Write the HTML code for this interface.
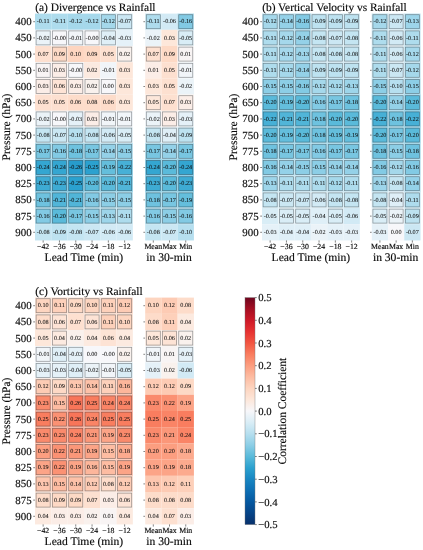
<!DOCTYPE html>
<html><head><meta charset="utf-8"><title>Correlation heatmaps</title>
<style>html,body{margin:0;padding:0;background:#fff;}svg{display:block;}svg text{stroke:#0a0a0a;stroke-width:0.15px;}svg text.a{stroke-width:0.06px;}</style>
</head><body>
<svg width="423" height="550" viewBox="0 0 423 550" text-rendering="geometricPrecision" font-family="Liberation Serif, Times New Roman, serif">
<rect x="0" y="0" width="423" height="550" fill="#ffffff"/>
<text x="35.2" y="11.0" font-size="11.4" fill="#0a0a0a">(a) Divergence vs Rainfall</text>
<text x="31.6" y="25.1" font-size="10.9" text-anchor="end" fill="#0a0a0a">400</text>
<line x1="33.2" y1="21.70" x2="35.0" y2="21.70" stroke="#333" stroke-width="0.6"/>
<line x1="143.4" y1="21.70" x2="145.2" y2="21.70" stroke="#333" stroke-width="0.6"/>
<rect x="35.00" y="13.60" width="16.35" height="16.25" fill="#aedced"/>
<text x="43.15" y="23.45" class="a" font-size="6.2" text-anchor="middle" fill="#111">-0.11</text>
<rect x="51.30" y="13.60" width="16.35" height="16.25" fill="#aedced"/>
<text x="59.45" y="23.45" class="a" font-size="6.2" text-anchor="middle" fill="#111">-0.11</text>
<rect x="67.60" y="13.60" width="16.35" height="16.25" fill="#a5d8eb"/>
<text x="75.75" y="23.45" class="a" font-size="6.2" text-anchor="middle" fill="#111">-0.12</text>
<rect x="83.90" y="13.60" width="16.35" height="16.25" fill="#a5d8eb"/>
<text x="92.05" y="23.45" class="a" font-size="6.2" text-anchor="middle" fill="#111">-0.12</text>
<rect x="100.20" y="13.60" width="16.35" height="16.25" fill="#a5d8eb"/>
<rect x="100.70" y="14.10" width="15.30" height="15.20" fill="none" stroke="#ffffff" stroke-opacity="0.45" stroke-width="1"/>
<rect x="101.30" y="14.70" width="14.10" height="14.00" fill="none" stroke="#1a2228" stroke-opacity="0.45" stroke-width="0.75"/>
<text x="108.35" y="23.45" class="a" font-size="6.2" text-anchor="middle" fill="#111">-0.12</text>
<rect x="116.50" y="13.60" width="16.35" height="16.25" fill="#cbe7f3"/>
<rect x="117.00" y="14.10" width="15.30" height="15.20" fill="none" stroke="#ffffff" stroke-opacity="0.45" stroke-width="1"/>
<rect x="117.60" y="14.70" width="14.10" height="14.00" fill="none" stroke="#1a2228" stroke-opacity="0.45" stroke-width="0.75"/>
<text x="124.65" y="23.45" class="a" font-size="6.2" text-anchor="middle" fill="#111">-0.07</text>
<rect x="145.20" y="13.60" width="16.27" height="16.25" fill="#aedced"/>
<rect x="145.70" y="14.10" width="15.22" height="15.20" fill="none" stroke="#ffffff" stroke-opacity="0.45" stroke-width="1"/>
<rect x="146.30" y="14.70" width="14.02" height="14.00" fill="none" stroke="#1a2228" stroke-opacity="0.45" stroke-width="0.75"/>
<text x="153.31" y="23.45" class="a" font-size="6.2" text-anchor="middle" fill="#111">-0.11</text>
<rect x="161.42" y="13.60" width="16.27" height="16.25" fill="#d2eaf5"/>
<text x="169.53" y="23.45" class="a" font-size="6.2" text-anchor="middle" fill="#111">-0.06</text>
<rect x="177.64" y="13.60" width="16.27" height="16.25" fill="#82cae4"/>
<rect x="178.14" y="14.10" width="15.22" height="15.20" fill="none" stroke="#ffffff" stroke-opacity="0.45" stroke-width="1"/>
<rect x="178.74" y="14.70" width="14.02" height="14.00" fill="none" stroke="#1a2228" stroke-opacity="0.45" stroke-width="0.75"/>
<text x="185.75" y="23.45" class="a" font-size="6.2" text-anchor="middle" fill="#111">-0.16</text>
<text x="31.6" y="41.3" font-size="10.9" text-anchor="end" fill="#0a0a0a">450</text>
<line x1="33.2" y1="37.90" x2="35.0" y2="37.90" stroke="#333" stroke-width="0.6"/>
<line x1="143.4" y1="37.90" x2="145.2" y2="37.90" stroke="#333" stroke-width="0.6"/>
<rect x="35.00" y="29.80" width="16.35" height="16.25" fill="#ebf3f8"/>
<rect x="35.50" y="30.30" width="15.30" height="15.20" fill="none" stroke="#ffffff" stroke-opacity="0.45" stroke-width="1"/>
<rect x="36.10" y="30.90" width="14.10" height="14.00" fill="none" stroke="#1a2228" stroke-opacity="0.45" stroke-width="0.75"/>
<text x="43.15" y="39.65" class="a" font-size="6.2" text-anchor="middle" fill="#111">-0.02</text>
<rect x="51.30" y="29.80" width="16.35" height="16.25" fill="#f7f7fa"/>
<rect x="51.80" y="30.30" width="15.30" height="15.20" fill="none" stroke="#ffffff" stroke-opacity="0.45" stroke-width="1"/>
<rect x="52.40" y="30.90" width="14.10" height="14.00" fill="none" stroke="#1a2228" stroke-opacity="0.45" stroke-width="0.75"/>
<text x="59.45" y="39.65" class="a" font-size="6.2" text-anchor="middle" fill="#111">-0.00</text>
<rect x="67.60" y="29.80" width="16.35" height="16.25" fill="#f1f5f9"/>
<rect x="68.10" y="30.30" width="15.30" height="15.20" fill="none" stroke="#ffffff" stroke-opacity="0.45" stroke-width="1"/>
<rect x="68.70" y="30.90" width="14.10" height="14.00" fill="none" stroke="#1a2228" stroke-opacity="0.45" stroke-width="0.75"/>
<text x="75.75" y="39.65" class="a" font-size="6.2" text-anchor="middle" fill="#111">-0.01</text>
<rect x="83.90" y="29.80" width="16.35" height="16.25" fill="#f7f7fa"/>
<rect x="84.40" y="30.30" width="15.30" height="15.20" fill="none" stroke="#ffffff" stroke-opacity="0.45" stroke-width="1"/>
<rect x="85.00" y="30.90" width="14.10" height="14.00" fill="none" stroke="#1a2228" stroke-opacity="0.45" stroke-width="0.75"/>
<text x="92.05" y="39.65" class="a" font-size="6.2" text-anchor="middle" fill="#111">-0.00</text>
<rect x="100.20" y="29.80" width="16.35" height="16.25" fill="#dfeff7"/>
<rect x="100.70" y="30.30" width="15.30" height="15.20" fill="none" stroke="#ffffff" stroke-opacity="0.45" stroke-width="1"/>
<rect x="101.30" y="30.90" width="14.10" height="14.00" fill="none" stroke="#1a2228" stroke-opacity="0.45" stroke-width="0.75"/>
<text x="108.35" y="39.65" class="a" font-size="6.2" text-anchor="middle" fill="#111">-0.04</text>
<rect x="116.50" y="29.80" width="16.35" height="16.25" fill="#e5f1f8"/>
<text x="124.65" y="39.65" class="a" font-size="6.2" text-anchor="middle" fill="#111">-0.03</text>
<rect x="145.20" y="29.80" width="16.27" height="16.25" fill="#ebf3f8"/>
<text x="153.31" y="39.65" class="a" font-size="6.2" text-anchor="middle" fill="#111">-0.02</text>
<rect x="161.42" y="29.80" width="16.27" height="16.25" fill="#fde7da"/>
<text x="169.53" y="39.65" class="a" font-size="6.2" text-anchor="middle" fill="#111">0.03</text>
<rect x="177.64" y="29.80" width="16.27" height="16.25" fill="#d9edf6"/>
<rect x="178.14" y="30.30" width="15.22" height="15.20" fill="none" stroke="#ffffff" stroke-opacity="0.45" stroke-width="1"/>
<rect x="178.74" y="30.90" width="14.02" height="14.00" fill="none" stroke="#1a2228" stroke-opacity="0.45" stroke-width="0.75"/>
<text x="185.75" y="39.65" class="a" font-size="6.2" text-anchor="middle" fill="#111">-0.05</text>
<text x="31.6" y="57.5" font-size="10.9" text-anchor="end" fill="#0a0a0a">500</text>
<line x1="33.2" y1="54.10" x2="35.0" y2="54.10" stroke="#333" stroke-width="0.6"/>
<line x1="143.4" y1="54.10" x2="145.2" y2="54.10" stroke="#333" stroke-width="0.6"/>
<rect x="35.00" y="46.00" width="16.35" height="16.25" fill="#fde0d0"/>
<text x="43.15" y="55.85" class="a" font-size="6.2" text-anchor="middle" fill="#111">0.07</text>
<rect x="51.30" y="46.00" width="16.35" height="16.25" fill="#fdd9c5"/>
<rect x="51.80" y="46.50" width="15.30" height="15.20" fill="none" stroke="#ffffff" stroke-opacity="0.45" stroke-width="1"/>
<rect x="52.40" y="47.10" width="14.10" height="14.00" fill="none" stroke="#1a2228" stroke-opacity="0.45" stroke-width="0.75"/>
<text x="59.45" y="55.85" class="a" font-size="6.2" text-anchor="middle" fill="#111">0.09</text>
<rect x="67.60" y="46.00" width="16.35" height="16.25" fill="#fdd5c0"/>
<text x="75.75" y="55.85" class="a" font-size="6.2" text-anchor="middle" fill="#111">0.10</text>
<rect x="83.90" y="46.00" width="16.35" height="16.25" fill="#fdd9c5"/>
<text x="92.05" y="55.85" class="a" font-size="6.2" text-anchor="middle" fill="#111">0.09</text>
<rect x="100.20" y="46.00" width="16.35" height="16.25" fill="#fde0d0"/>
<text x="108.35" y="55.85" class="a" font-size="6.2" text-anchor="middle" fill="#111">0.05</text>
<rect x="116.50" y="46.00" width="16.35" height="16.25" fill="#f9f1ed"/>
<rect x="117.00" y="46.50" width="15.30" height="15.20" fill="none" stroke="#ffffff" stroke-opacity="0.45" stroke-width="1"/>
<rect x="117.60" y="47.10" width="14.10" height="14.00" fill="none" stroke="#1a2228" stroke-opacity="0.45" stroke-width="0.75"/>
<text x="124.65" y="55.85" class="a" font-size="6.2" text-anchor="middle" fill="#111">0.02</text>
<rect x="145.20" y="46.00" width="16.27" height="16.25" fill="#fde0d0"/>
<rect x="145.70" y="46.50" width="15.22" height="15.20" fill="none" stroke="#ffffff" stroke-opacity="0.45" stroke-width="1"/>
<rect x="146.30" y="47.10" width="14.02" height="14.00" fill="none" stroke="#1a2228" stroke-opacity="0.45" stroke-width="0.75"/>
<text x="153.31" y="55.85" class="a" font-size="6.2" text-anchor="middle" fill="#111">0.07</text>
<rect x="161.42" y="46.00" width="16.27" height="16.25" fill="#fdd9c5"/>
<text x="169.53" y="55.85" class="a" font-size="6.2" text-anchor="middle" fill="#111">0.09</text>
<rect x="177.64" y="46.00" width="16.27" height="16.25" fill="#f8f4f4"/>
<rect x="178.14" y="46.50" width="15.22" height="15.20" fill="none" stroke="#ffffff" stroke-opacity="0.45" stroke-width="1"/>
<rect x="178.74" y="47.10" width="14.02" height="14.00" fill="none" stroke="#1a2228" stroke-opacity="0.45" stroke-width="0.75"/>
<text x="185.75" y="55.85" class="a" font-size="6.2" text-anchor="middle" fill="#111">0.01</text>
<text x="31.6" y="73.7" font-size="10.9" text-anchor="end" fill="#0a0a0a">550</text>
<line x1="33.2" y1="70.30" x2="35.0" y2="70.30" stroke="#333" stroke-width="0.6"/>
<line x1="143.4" y1="70.30" x2="145.2" y2="70.30" stroke="#333" stroke-width="0.6"/>
<rect x="35.00" y="62.20" width="16.35" height="16.25" fill="#f8f4f4"/>
<rect x="35.50" y="62.70" width="15.30" height="15.20" fill="none" stroke="#ffffff" stroke-opacity="0.45" stroke-width="1"/>
<rect x="36.10" y="63.30" width="14.10" height="14.00" fill="none" stroke="#1a2228" stroke-opacity="0.45" stroke-width="0.75"/>
<text x="43.15" y="72.05" class="a" font-size="6.2" text-anchor="middle" fill="#111">0.01</text>
<rect x="51.30" y="62.20" width="16.35" height="16.25" fill="#fbede7"/>
<rect x="51.80" y="62.70" width="15.30" height="15.20" fill="none" stroke="#ffffff" stroke-opacity="0.45" stroke-width="1"/>
<rect x="52.40" y="63.30" width="14.10" height="14.00" fill="none" stroke="#1a2228" stroke-opacity="0.45" stroke-width="0.75"/>
<text x="59.45" y="72.05" class="a" font-size="6.2" text-anchor="middle" fill="#111">0.03</text>
<rect x="67.60" y="62.20" width="16.35" height="16.25" fill="#f7f7fa"/>
<rect x="68.10" y="62.70" width="15.30" height="15.20" fill="none" stroke="#ffffff" stroke-opacity="0.45" stroke-width="1"/>
<rect x="68.70" y="63.30" width="14.10" height="14.00" fill="none" stroke="#1a2228" stroke-opacity="0.45" stroke-width="0.75"/>
<text x="75.75" y="72.05" class="a" font-size="6.2" text-anchor="middle" fill="#111">-0.00</text>
<rect x="83.90" y="62.20" width="16.35" height="16.25" fill="#fceae0"/>
<text x="92.05" y="72.05" class="a" font-size="6.2" text-anchor="middle" fill="#111">0.02</text>
<rect x="100.20" y="62.20" width="16.35" height="16.25" fill="#f1f5f9"/>
<text x="108.35" y="72.05" class="a" font-size="6.2" text-anchor="middle" fill="#111">-0.01</text>
<rect x="116.50" y="62.20" width="16.35" height="16.25" fill="#fde7da"/>
<text x="124.65" y="72.05" class="a" font-size="6.2" text-anchor="middle" fill="#111">0.03</text>
<rect x="145.20" y="62.20" width="16.27" height="16.25" fill="#fbede7"/>
<text x="153.31" y="72.05" class="a" font-size="6.2" text-anchor="middle" fill="#111">0.01</text>
<rect x="161.42" y="62.20" width="16.27" height="16.25" fill="#fde0d0"/>
<text x="169.53" y="72.05" class="a" font-size="6.2" text-anchor="middle" fill="#111">0.05</text>
<rect x="177.64" y="62.20" width="16.27" height="16.25" fill="#f1f5f9"/>
<rect x="178.14" y="62.70" width="15.22" height="15.20" fill="none" stroke="#ffffff" stroke-opacity="0.45" stroke-width="1"/>
<rect x="178.74" y="63.30" width="14.02" height="14.00" fill="none" stroke="#1a2228" stroke-opacity="0.45" stroke-width="0.75"/>
<text x="185.75" y="72.05" class="a" font-size="6.2" text-anchor="middle" fill="#111">-0.01</text>
<text x="31.6" y="89.9" font-size="10.9" text-anchor="end" fill="#0a0a0a">600</text>
<line x1="33.2" y1="86.50" x2="35.0" y2="86.50" stroke="#333" stroke-width="0.6"/>
<line x1="143.4" y1="86.50" x2="145.2" y2="86.50" stroke="#333" stroke-width="0.6"/>
<rect x="35.00" y="78.40" width="16.35" height="16.25" fill="#fbede7"/>
<rect x="35.50" y="78.90" width="15.30" height="15.20" fill="none" stroke="#ffffff" stroke-opacity="0.45" stroke-width="1"/>
<rect x="36.10" y="79.50" width="14.10" height="14.00" fill="none" stroke="#1a2228" stroke-opacity="0.45" stroke-width="0.75"/>
<text x="43.15" y="88.25" class="a" font-size="6.2" text-anchor="middle" fill="#111">0.03</text>
<rect x="51.30" y="78.40" width="16.35" height="16.25" fill="#fde3d5"/>
<rect x="51.80" y="78.90" width="15.30" height="15.20" fill="none" stroke="#ffffff" stroke-opacity="0.45" stroke-width="1"/>
<rect x="52.40" y="79.50" width="14.10" height="14.00" fill="none" stroke="#1a2228" stroke-opacity="0.45" stroke-width="0.75"/>
<text x="59.45" y="88.25" class="a" font-size="6.2" text-anchor="middle" fill="#111">0.06</text>
<rect x="67.60" y="78.40" width="16.35" height="16.25" fill="#fbede7"/>
<rect x="68.10" y="78.90" width="15.30" height="15.20" fill="none" stroke="#ffffff" stroke-opacity="0.45" stroke-width="1"/>
<rect x="68.70" y="79.50" width="14.10" height="14.00" fill="none" stroke="#1a2228" stroke-opacity="0.45" stroke-width="0.75"/>
<text x="75.75" y="88.25" class="a" font-size="6.2" text-anchor="middle" fill="#111">0.03</text>
<rect x="83.90" y="78.40" width="16.35" height="16.25" fill="#f9f1ed"/>
<rect x="84.40" y="78.90" width="15.30" height="15.20" fill="none" stroke="#ffffff" stroke-opacity="0.45" stroke-width="1"/>
<rect x="85.00" y="79.50" width="14.10" height="14.00" fill="none" stroke="#1a2228" stroke-opacity="0.45" stroke-width="0.75"/>
<text x="92.05" y="88.25" class="a" font-size="6.2" text-anchor="middle" fill="#111">0.02</text>
<rect x="100.20" y="78.40" width="16.35" height="16.25" fill="#f7f7fa"/>
<rect x="100.70" y="78.90" width="15.30" height="15.20" fill="none" stroke="#ffffff" stroke-opacity="0.45" stroke-width="1"/>
<rect x="101.30" y="79.50" width="14.10" height="14.00" fill="none" stroke="#1a2228" stroke-opacity="0.45" stroke-width="0.75"/>
<text x="108.35" y="88.25" class="a" font-size="6.2" text-anchor="middle" fill="#111">0.00</text>
<rect x="116.50" y="78.40" width="16.35" height="16.25" fill="#fde7da"/>
<text x="124.65" y="88.25" class="a" font-size="6.2" text-anchor="middle" fill="#111">0.03</text>
<rect x="145.20" y="78.40" width="16.27" height="16.25" fill="#fde7da"/>
<text x="153.31" y="88.25" class="a" font-size="6.2" text-anchor="middle" fill="#111">0.03</text>
<rect x="161.42" y="78.40" width="16.27" height="16.25" fill="#fde0d0"/>
<text x="169.53" y="88.25" class="a" font-size="6.2" text-anchor="middle" fill="#111">0.05</text>
<rect x="177.64" y="78.40" width="16.27" height="16.25" fill="#ebf3f8"/>
<text x="185.75" y="88.25" class="a" font-size="6.2" text-anchor="middle" fill="#111">-0.02</text>
<text x="31.6" y="106.1" font-size="10.9" text-anchor="end" fill="#0a0a0a">650</text>
<line x1="33.2" y1="102.70" x2="35.0" y2="102.70" stroke="#333" stroke-width="0.6"/>
<line x1="143.4" y1="102.70" x2="145.2" y2="102.70" stroke="#333" stroke-width="0.6"/>
<rect x="35.00" y="94.60" width="16.35" height="16.25" fill="#fde0d0"/>
<text x="43.15" y="104.45" class="a" font-size="6.2" text-anchor="middle" fill="#111">0.05</text>
<rect x="51.30" y="94.60" width="16.35" height="16.25" fill="#fde0d0"/>
<text x="59.45" y="104.45" class="a" font-size="6.2" text-anchor="middle" fill="#111">0.05</text>
<rect x="67.60" y="94.60" width="16.35" height="16.25" fill="#fddcca"/>
<text x="75.75" y="104.45" class="a" font-size="6.2" text-anchor="middle" fill="#111">0.06</text>
<rect x="83.90" y="94.60" width="16.35" height="16.25" fill="#fddcca"/>
<text x="92.05" y="104.45" class="a" font-size="6.2" text-anchor="middle" fill="#111">0.08</text>
<rect x="100.20" y="94.60" width="16.35" height="16.25" fill="#fddcca"/>
<text x="108.35" y="104.45" class="a" font-size="6.2" text-anchor="middle" fill="#111">0.06</text>
<rect x="116.50" y="94.60" width="16.35" height="16.25" fill="#fde7da"/>
<text x="124.65" y="104.45" class="a" font-size="6.2" text-anchor="middle" fill="#111">0.03</text>
<rect x="145.20" y="94.60" width="16.27" height="16.25" fill="#fde7da"/>
<rect x="145.70" y="95.10" width="15.22" height="15.20" fill="none" stroke="#ffffff" stroke-opacity="0.45" stroke-width="1"/>
<rect x="146.30" y="95.70" width="14.02" height="14.00" fill="none" stroke="#1a2228" stroke-opacity="0.45" stroke-width="0.75"/>
<text x="153.31" y="104.45" class="a" font-size="6.2" text-anchor="middle" fill="#111">0.05</text>
<rect x="161.42" y="94.60" width="16.27" height="16.25" fill="#fde0d0"/>
<text x="169.53" y="104.45" class="a" font-size="6.2" text-anchor="middle" fill="#111">0.07</text>
<rect x="177.64" y="94.60" width="16.27" height="16.25" fill="#fbede7"/>
<rect x="178.14" y="95.10" width="15.22" height="15.20" fill="none" stroke="#ffffff" stroke-opacity="0.45" stroke-width="1"/>
<rect x="178.74" y="95.70" width="14.02" height="14.00" fill="none" stroke="#1a2228" stroke-opacity="0.45" stroke-width="0.75"/>
<text x="185.75" y="104.45" class="a" font-size="6.2" text-anchor="middle" fill="#111">0.03</text>
<text x="31.6" y="122.3" font-size="10.9" text-anchor="end" fill="#0a0a0a">700</text>
<line x1="33.2" y1="118.90" x2="35.0" y2="118.90" stroke="#333" stroke-width="0.6"/>
<line x1="143.4" y1="118.90" x2="145.2" y2="118.90" stroke="#333" stroke-width="0.6"/>
<rect x="35.00" y="110.80" width="16.35" height="16.25" fill="#ebf3f8"/>
<rect x="35.50" y="111.30" width="15.30" height="15.20" fill="none" stroke="#ffffff" stroke-opacity="0.45" stroke-width="1"/>
<rect x="36.10" y="111.90" width="14.10" height="14.00" fill="none" stroke="#1a2228" stroke-opacity="0.45" stroke-width="0.75"/>
<text x="43.15" y="120.65" class="a" font-size="6.2" text-anchor="middle" fill="#111">-0.02</text>
<rect x="51.30" y="110.80" width="16.35" height="16.25" fill="#f7f7fa"/>
<rect x="51.80" y="111.30" width="15.30" height="15.20" fill="none" stroke="#ffffff" stroke-opacity="0.45" stroke-width="1"/>
<rect x="52.40" y="111.90" width="14.10" height="14.00" fill="none" stroke="#1a2228" stroke-opacity="0.45" stroke-width="0.75"/>
<text x="59.45" y="120.65" class="a" font-size="6.2" text-anchor="middle" fill="#111">-0.00</text>
<rect x="67.60" y="110.80" width="16.35" height="16.25" fill="#e5f1f8"/>
<rect x="68.10" y="111.30" width="15.30" height="15.20" fill="none" stroke="#ffffff" stroke-opacity="0.45" stroke-width="1"/>
<rect x="68.70" y="111.90" width="14.10" height="14.00" fill="none" stroke="#1a2228" stroke-opacity="0.45" stroke-width="0.75"/>
<text x="75.75" y="120.65" class="a" font-size="6.2" text-anchor="middle" fill="#111">-0.03</text>
<rect x="83.90" y="110.80" width="16.35" height="16.25" fill="#fbede7"/>
<rect x="84.40" y="111.30" width="15.30" height="15.20" fill="none" stroke="#ffffff" stroke-opacity="0.45" stroke-width="1"/>
<rect x="85.00" y="111.90" width="14.10" height="14.00" fill="none" stroke="#1a2228" stroke-opacity="0.45" stroke-width="0.75"/>
<text x="92.05" y="120.65" class="a" font-size="6.2" text-anchor="middle" fill="#111">0.03</text>
<rect x="100.20" y="110.80" width="16.35" height="16.25" fill="#f1f5f9"/>
<rect x="100.70" y="111.30" width="15.30" height="15.20" fill="none" stroke="#ffffff" stroke-opacity="0.45" stroke-width="1"/>
<rect x="101.30" y="111.90" width="14.10" height="14.00" fill="none" stroke="#1a2228" stroke-opacity="0.45" stroke-width="0.75"/>
<text x="108.35" y="120.65" class="a" font-size="6.2" text-anchor="middle" fill="#111">-0.01</text>
<rect x="116.50" y="110.80" width="16.35" height="16.25" fill="#f1f5f9"/>
<rect x="117.00" y="111.30" width="15.30" height="15.20" fill="none" stroke="#ffffff" stroke-opacity="0.45" stroke-width="1"/>
<rect x="117.60" y="111.90" width="14.10" height="14.00" fill="none" stroke="#1a2228" stroke-opacity="0.45" stroke-width="0.75"/>
<text x="124.65" y="120.65" class="a" font-size="6.2" text-anchor="middle" fill="#111">-0.01</text>
<rect x="145.20" y="110.80" width="16.27" height="16.25" fill="#ebf3f8"/>
<rect x="145.70" y="111.30" width="15.22" height="15.20" fill="none" stroke="#ffffff" stroke-opacity="0.45" stroke-width="1"/>
<rect x="146.30" y="111.90" width="14.02" height="14.00" fill="none" stroke="#1a2228" stroke-opacity="0.45" stroke-width="0.75"/>
<text x="153.31" y="120.65" class="a" font-size="6.2" text-anchor="middle" fill="#111">-0.02</text>
<rect x="161.42" y="110.80" width="16.27" height="16.25" fill="#fbede7"/>
<rect x="161.92" y="111.30" width="15.22" height="15.20" fill="none" stroke="#ffffff" stroke-opacity="0.45" stroke-width="1"/>
<rect x="162.52" y="111.90" width="14.02" height="14.00" fill="none" stroke="#1a2228" stroke-opacity="0.45" stroke-width="0.75"/>
<text x="169.53" y="120.65" class="a" font-size="6.2" text-anchor="middle" fill="#111">0.03</text>
<rect x="177.64" y="110.80" width="16.27" height="16.25" fill="#e5f1f8"/>
<rect x="178.14" y="111.30" width="15.22" height="15.20" fill="none" stroke="#ffffff" stroke-opacity="0.45" stroke-width="1"/>
<rect x="178.74" y="111.90" width="14.02" height="14.00" fill="none" stroke="#1a2228" stroke-opacity="0.45" stroke-width="0.75"/>
<text x="185.75" y="120.65" class="a" font-size="6.2" text-anchor="middle" fill="#111">-0.03</text>
<text x="31.6" y="138.5" font-size="10.9" text-anchor="end" fill="#0a0a0a">750</text>
<line x1="33.2" y1="135.10" x2="35.0" y2="135.10" stroke="#333" stroke-width="0.6"/>
<line x1="143.4" y1="135.10" x2="145.2" y2="135.10" stroke="#333" stroke-width="0.6"/>
<rect x="35.00" y="127.00" width="16.35" height="16.25" fill="#c4e5f2"/>
<rect x="35.50" y="127.50" width="15.30" height="15.20" fill="none" stroke="#ffffff" stroke-opacity="0.45" stroke-width="1"/>
<rect x="36.10" y="128.10" width="14.10" height="14.00" fill="none" stroke="#1a2228" stroke-opacity="0.45" stroke-width="0.75"/>
<text x="43.15" y="136.85" class="a" font-size="6.2" text-anchor="middle" fill="#111">-0.08</text>
<rect x="51.30" y="127.00" width="16.35" height="16.25" fill="#cbe7f3"/>
<rect x="51.80" y="127.50" width="15.30" height="15.20" fill="none" stroke="#ffffff" stroke-opacity="0.45" stroke-width="1"/>
<rect x="52.40" y="128.10" width="14.10" height="14.00" fill="none" stroke="#1a2228" stroke-opacity="0.45" stroke-width="0.75"/>
<text x="59.45" y="136.85" class="a" font-size="6.2" text-anchor="middle" fill="#111">-0.07</text>
<rect x="67.60" y="127.00" width="16.35" height="16.25" fill="#b6dfef"/>
<rect x="68.10" y="127.50" width="15.30" height="15.20" fill="none" stroke="#ffffff" stroke-opacity="0.45" stroke-width="1"/>
<rect x="68.70" y="128.10" width="14.10" height="14.00" fill="none" stroke="#1a2228" stroke-opacity="0.45" stroke-width="0.75"/>
<text x="75.75" y="136.85" class="a" font-size="6.2" text-anchor="middle" fill="#111">-0.10</text>
<rect x="83.90" y="127.00" width="16.35" height="16.25" fill="#c4e5f2"/>
<rect x="84.40" y="127.50" width="15.30" height="15.20" fill="none" stroke="#ffffff" stroke-opacity="0.45" stroke-width="1"/>
<rect x="85.00" y="128.10" width="14.10" height="14.00" fill="none" stroke="#1a2228" stroke-opacity="0.45" stroke-width="0.75"/>
<text x="92.05" y="136.85" class="a" font-size="6.2" text-anchor="middle" fill="#111">-0.08</text>
<rect x="100.20" y="127.00" width="16.35" height="16.25" fill="#d2eaf5"/>
<rect x="100.70" y="127.50" width="15.30" height="15.20" fill="none" stroke="#ffffff" stroke-opacity="0.45" stroke-width="1"/>
<rect x="101.30" y="128.10" width="14.10" height="14.00" fill="none" stroke="#1a2228" stroke-opacity="0.45" stroke-width="0.75"/>
<text x="108.35" y="136.85" class="a" font-size="6.2" text-anchor="middle" fill="#111">-0.06</text>
<rect x="116.50" y="127.00" width="16.35" height="16.25" fill="#d9edf6"/>
<rect x="117.00" y="127.50" width="15.30" height="15.20" fill="none" stroke="#ffffff" stroke-opacity="0.45" stroke-width="1"/>
<rect x="117.60" y="128.10" width="14.10" height="14.00" fill="none" stroke="#1a2228" stroke-opacity="0.45" stroke-width="0.75"/>
<text x="124.65" y="136.85" class="a" font-size="6.2" text-anchor="middle" fill="#111">-0.05</text>
<rect x="145.20" y="127.00" width="16.27" height="16.25" fill="#c4e5f2"/>
<rect x="145.70" y="127.50" width="15.22" height="15.20" fill="none" stroke="#ffffff" stroke-opacity="0.45" stroke-width="1"/>
<rect x="146.30" y="128.10" width="14.02" height="14.00" fill="none" stroke="#1a2228" stroke-opacity="0.45" stroke-width="0.75"/>
<text x="153.31" y="136.85" class="a" font-size="6.2" text-anchor="middle" fill="#111">-0.08</text>
<rect x="161.42" y="127.00" width="16.27" height="16.25" fill="#dfeff7"/>
<rect x="161.92" y="127.50" width="15.22" height="15.20" fill="none" stroke="#ffffff" stroke-opacity="0.45" stroke-width="1"/>
<rect x="162.52" y="128.10" width="14.02" height="14.00" fill="none" stroke="#1a2228" stroke-opacity="0.45" stroke-width="0.75"/>
<text x="169.53" y="136.85" class="a" font-size="6.2" text-anchor="middle" fill="#111">-0.04</text>
<rect x="177.64" y="127.00" width="16.27" height="16.25" fill="#bde2f0"/>
<rect x="178.14" y="127.50" width="15.22" height="15.20" fill="none" stroke="#ffffff" stroke-opacity="0.45" stroke-width="1"/>
<rect x="178.74" y="128.10" width="14.02" height="14.00" fill="none" stroke="#1a2228" stroke-opacity="0.45" stroke-width="0.75"/>
<text x="185.75" y="136.85" class="a" font-size="6.2" text-anchor="middle" fill="#111">-0.09</text>
<text x="31.6" y="154.7" font-size="10.9" text-anchor="end" fill="#0a0a0a">775</text>
<line x1="33.2" y1="151.30" x2="35.0" y2="151.30" stroke="#333" stroke-width="0.6"/>
<line x1="143.4" y1="151.30" x2="145.2" y2="151.30" stroke="#333" stroke-width="0.6"/>
<rect x="35.00" y="143.20" width="16.35" height="16.25" fill="#78c6e1"/>
<rect x="35.50" y="143.70" width="15.30" height="15.20" fill="none" stroke="#ffffff" stroke-opacity="0.45" stroke-width="1"/>
<rect x="36.10" y="144.30" width="14.10" height="14.00" fill="none" stroke="#1a2228" stroke-opacity="0.45" stroke-width="0.75"/>
<text x="43.15" y="153.05" class="a" font-size="6.2" text-anchor="middle" fill="#111">-0.17</text>
<rect x="51.30" y="143.20" width="16.35" height="16.25" fill="#82cae4"/>
<rect x="51.80" y="143.70" width="15.30" height="15.20" fill="none" stroke="#ffffff" stroke-opacity="0.45" stroke-width="1"/>
<rect x="52.40" y="144.30" width="14.10" height="14.00" fill="none" stroke="#1a2228" stroke-opacity="0.45" stroke-width="0.75"/>
<text x="59.45" y="153.05" class="a" font-size="6.2" text-anchor="middle" fill="#111">-0.16</text>
<rect x="67.60" y="143.20" width="16.35" height="16.25" fill="#6ec2df"/>
<rect x="68.10" y="143.70" width="15.30" height="15.20" fill="none" stroke="#ffffff" stroke-opacity="0.45" stroke-width="1"/>
<rect x="68.70" y="144.30" width="14.10" height="14.00" fill="none" stroke="#1a2228" stroke-opacity="0.45" stroke-width="0.75"/>
<text x="75.75" y="153.05" class="a" font-size="6.2" text-anchor="middle" fill="#111">-0.18</text>
<rect x="83.90" y="143.20" width="16.35" height="16.25" fill="#78c6e1"/>
<rect x="84.40" y="143.70" width="15.30" height="15.20" fill="none" stroke="#ffffff" stroke-opacity="0.45" stroke-width="1"/>
<rect x="85.00" y="144.30" width="14.10" height="14.00" fill="none" stroke="#1a2228" stroke-opacity="0.45" stroke-width="0.75"/>
<text x="92.05" y="153.05" class="a" font-size="6.2" text-anchor="middle" fill="#111">-0.17</text>
<rect x="100.20" y="143.20" width="16.35" height="16.25" fill="#94d1e8"/>
<rect x="100.70" y="143.70" width="15.30" height="15.20" fill="none" stroke="#ffffff" stroke-opacity="0.45" stroke-width="1"/>
<rect x="101.30" y="144.30" width="14.10" height="14.00" fill="none" stroke="#1a2228" stroke-opacity="0.45" stroke-width="0.75"/>
<text x="108.35" y="153.05" class="a" font-size="6.2" text-anchor="middle" fill="#111">-0.14</text>
<rect x="116.50" y="143.20" width="16.35" height="16.25" fill="#8ccee6"/>
<rect x="117.00" y="143.70" width="15.30" height="15.20" fill="none" stroke="#ffffff" stroke-opacity="0.45" stroke-width="1"/>
<rect x="117.60" y="144.30" width="14.10" height="14.00" fill="none" stroke="#1a2228" stroke-opacity="0.45" stroke-width="0.75"/>
<text x="124.65" y="153.05" class="a" font-size="6.2" text-anchor="middle" fill="#111">-0.15</text>
<rect x="145.20" y="143.20" width="16.27" height="16.25" fill="#78c6e1"/>
<rect x="145.70" y="143.70" width="15.22" height="15.20" fill="none" stroke="#ffffff" stroke-opacity="0.45" stroke-width="1"/>
<rect x="146.30" y="144.30" width="14.02" height="14.00" fill="none" stroke="#1a2228" stroke-opacity="0.45" stroke-width="0.75"/>
<text x="153.31" y="153.05" class="a" font-size="6.2" text-anchor="middle" fill="#111">-0.17</text>
<rect x="161.42" y="143.20" width="16.27" height="16.25" fill="#94d1e8"/>
<rect x="161.92" y="143.70" width="15.22" height="15.20" fill="none" stroke="#ffffff" stroke-opacity="0.45" stroke-width="1"/>
<rect x="162.52" y="144.30" width="14.02" height="14.00" fill="none" stroke="#1a2228" stroke-opacity="0.45" stroke-width="0.75"/>
<text x="169.53" y="153.05" class="a" font-size="6.2" text-anchor="middle" fill="#111">-0.14</text>
<rect x="177.64" y="143.20" width="16.27" height="16.25" fill="#78c6e1"/>
<rect x="178.14" y="143.70" width="15.22" height="15.20" fill="none" stroke="#ffffff" stroke-opacity="0.45" stroke-width="1"/>
<rect x="178.74" y="144.30" width="14.02" height="14.00" fill="none" stroke="#1a2228" stroke-opacity="0.45" stroke-width="0.75"/>
<text x="185.75" y="153.05" class="a" font-size="6.2" text-anchor="middle" fill="#111">-0.17</text>
<text x="31.6" y="170.9" font-size="10.9" text-anchor="end" fill="#0a0a0a">800</text>
<line x1="33.2" y1="167.50" x2="35.0" y2="167.50" stroke="#333" stroke-width="0.6"/>
<line x1="143.4" y1="167.50" x2="145.2" y2="167.50" stroke="#333" stroke-width="0.6"/>
<rect x="35.00" y="159.40" width="16.35" height="16.25" fill="#34a6d1"/>
<rect x="35.50" y="159.90" width="15.30" height="15.20" fill="none" stroke="#ffffff" stroke-opacity="0.45" stroke-width="1"/>
<rect x="36.10" y="160.50" width="14.10" height="14.00" fill="none" stroke="#1a2228" stroke-opacity="0.45" stroke-width="0.75"/>
<text x="43.15" y="169.25" class="a" font-size="6.2" text-anchor="middle" fill="#111">-0.24</text>
<rect x="51.30" y="159.40" width="16.35" height="16.25" fill="#34a6d1"/>
<rect x="51.80" y="159.90" width="15.30" height="15.20" fill="none" stroke="#ffffff" stroke-opacity="0.45" stroke-width="1"/>
<rect x="52.40" y="160.50" width="14.10" height="14.00" fill="none" stroke="#1a2228" stroke-opacity="0.45" stroke-width="0.75"/>
<text x="59.45" y="169.25" class="a" font-size="6.2" text-anchor="middle" fill="#111">-0.24</text>
<rect x="67.60" y="159.40" width="16.35" height="16.25" fill="#279ccc"/>
<rect x="68.10" y="159.90" width="15.30" height="15.20" fill="none" stroke="#ffffff" stroke-opacity="0.45" stroke-width="1"/>
<rect x="68.70" y="160.50" width="14.10" height="14.00" fill="none" stroke="#1a2228" stroke-opacity="0.45" stroke-width="0.75"/>
<text x="75.75" y="169.25" class="a" font-size="6.2" text-anchor="middle" fill="#111">-0.26</text>
<rect x="83.90" y="159.40" width="16.35" height="16.25" fill="#2ba1cf"/>
<rect x="84.40" y="159.90" width="15.30" height="15.20" fill="none" stroke="#ffffff" stroke-opacity="0.45" stroke-width="1"/>
<rect x="85.00" y="160.50" width="14.10" height="14.00" fill="none" stroke="#1a2228" stroke-opacity="0.45" stroke-width="0.75"/>
<text x="92.05" y="169.25" class="a" font-size="6.2" text-anchor="middle" fill="#111">-0.25</text>
<rect x="100.20" y="159.40" width="16.35" height="16.25" fill="#64bedc"/>
<rect x="100.70" y="159.90" width="15.30" height="15.20" fill="none" stroke="#ffffff" stroke-opacity="0.45" stroke-width="1"/>
<rect x="101.30" y="160.50" width="14.10" height="14.00" fill="none" stroke="#1a2228" stroke-opacity="0.45" stroke-width="0.75"/>
<text x="108.35" y="169.25" class="a" font-size="6.2" text-anchor="middle" fill="#111">-0.19</text>
<rect x="116.50" y="159.40" width="16.35" height="16.25" fill="#47b0d6"/>
<rect x="117.00" y="159.90" width="15.30" height="15.20" fill="none" stroke="#ffffff" stroke-opacity="0.45" stroke-width="1"/>
<rect x="117.60" y="160.50" width="14.10" height="14.00" fill="none" stroke="#1a2228" stroke-opacity="0.45" stroke-width="0.75"/>
<text x="124.65" y="169.25" class="a" font-size="6.2" text-anchor="middle" fill="#111">-0.22</text>
<rect x="145.20" y="159.40" width="16.27" height="16.25" fill="#34a6d1"/>
<rect x="145.70" y="159.90" width="15.22" height="15.20" fill="none" stroke="#ffffff" stroke-opacity="0.45" stroke-width="1"/>
<rect x="146.30" y="160.50" width="14.02" height="14.00" fill="none" stroke="#1a2228" stroke-opacity="0.45" stroke-width="0.75"/>
<text x="153.31" y="169.25" class="a" font-size="6.2" text-anchor="middle" fill="#111">-0.24</text>
<rect x="161.42" y="159.40" width="16.27" height="16.25" fill="#5abada"/>
<rect x="161.92" y="159.90" width="15.22" height="15.20" fill="none" stroke="#ffffff" stroke-opacity="0.45" stroke-width="1"/>
<rect x="162.52" y="160.50" width="14.02" height="14.00" fill="none" stroke="#1a2228" stroke-opacity="0.45" stroke-width="0.75"/>
<text x="169.53" y="169.25" class="a" font-size="6.2" text-anchor="middle" fill="#111">-0.20</text>
<rect x="177.64" y="159.40" width="16.27" height="16.25" fill="#34a6d1"/>
<rect x="178.14" y="159.90" width="15.22" height="15.20" fill="none" stroke="#ffffff" stroke-opacity="0.45" stroke-width="1"/>
<rect x="178.74" y="160.50" width="14.02" height="14.00" fill="none" stroke="#1a2228" stroke-opacity="0.45" stroke-width="0.75"/>
<text x="185.75" y="169.25" class="a" font-size="6.2" text-anchor="middle" fill="#111">-0.24</text>
<text x="31.6" y="187.1" font-size="10.9" text-anchor="end" fill="#0a0a0a">825</text>
<line x1="33.2" y1="183.70" x2="35.0" y2="183.70" stroke="#333" stroke-width="0.6"/>
<line x1="143.4" y1="183.70" x2="145.2" y2="183.70" stroke="#333" stroke-width="0.6"/>
<rect x="35.00" y="175.60" width="16.35" height="16.25" fill="#3eabd3"/>
<rect x="35.50" y="176.10" width="15.30" height="15.20" fill="none" stroke="#ffffff" stroke-opacity="0.45" stroke-width="1"/>
<rect x="36.10" y="176.70" width="14.10" height="14.00" fill="none" stroke="#1a2228" stroke-opacity="0.45" stroke-width="0.75"/>
<text x="43.15" y="185.45" class="a" font-size="6.2" text-anchor="middle" fill="#111">-0.23</text>
<rect x="51.30" y="175.60" width="16.35" height="16.25" fill="#3eabd3"/>
<rect x="51.80" y="176.10" width="15.30" height="15.20" fill="none" stroke="#ffffff" stroke-opacity="0.45" stroke-width="1"/>
<rect x="52.40" y="176.70" width="14.10" height="14.00" fill="none" stroke="#1a2228" stroke-opacity="0.45" stroke-width="0.75"/>
<text x="59.45" y="185.45" class="a" font-size="6.2" text-anchor="middle" fill="#111">-0.23</text>
<rect x="67.60" y="175.60" width="16.35" height="16.25" fill="#2ba1cf"/>
<rect x="68.10" y="176.10" width="15.30" height="15.20" fill="none" stroke="#ffffff" stroke-opacity="0.45" stroke-width="1"/>
<rect x="68.70" y="176.70" width="14.10" height="14.00" fill="none" stroke="#1a2228" stroke-opacity="0.45" stroke-width="0.75"/>
<text x="75.75" y="185.45" class="a" font-size="6.2" text-anchor="middle" fill="#111">-0.25</text>
<rect x="83.90" y="175.60" width="16.35" height="16.25" fill="#5abada"/>
<rect x="84.40" y="176.10" width="15.30" height="15.20" fill="none" stroke="#ffffff" stroke-opacity="0.45" stroke-width="1"/>
<rect x="85.00" y="176.70" width="14.10" height="14.00" fill="none" stroke="#1a2228" stroke-opacity="0.45" stroke-width="0.75"/>
<text x="92.05" y="185.45" class="a" font-size="6.2" text-anchor="middle" fill="#111">-0.20</text>
<rect x="100.20" y="175.60" width="16.35" height="16.25" fill="#5abada"/>
<rect x="100.70" y="176.10" width="15.30" height="15.20" fill="none" stroke="#ffffff" stroke-opacity="0.45" stroke-width="1"/>
<rect x="101.30" y="176.70" width="14.10" height="14.00" fill="none" stroke="#1a2228" stroke-opacity="0.45" stroke-width="0.75"/>
<text x="108.35" y="185.45" class="a" font-size="6.2" text-anchor="middle" fill="#111">-0.20</text>
<rect x="116.50" y="175.60" width="16.35" height="16.25" fill="#51b5d8"/>
<rect x="117.00" y="176.10" width="15.30" height="15.20" fill="none" stroke="#ffffff" stroke-opacity="0.45" stroke-width="1"/>
<rect x="117.60" y="176.70" width="14.10" height="14.00" fill="none" stroke="#1a2228" stroke-opacity="0.45" stroke-width="0.75"/>
<text x="124.65" y="185.45" class="a" font-size="6.2" text-anchor="middle" fill="#111">-0.21</text>
<rect x="145.20" y="175.60" width="16.27" height="16.25" fill="#3eabd3"/>
<rect x="145.70" y="176.10" width="15.22" height="15.20" fill="none" stroke="#ffffff" stroke-opacity="0.45" stroke-width="1"/>
<rect x="146.30" y="176.70" width="14.02" height="14.00" fill="none" stroke="#1a2228" stroke-opacity="0.45" stroke-width="0.75"/>
<text x="153.31" y="185.45" class="a" font-size="6.2" text-anchor="middle" fill="#111">-0.23</text>
<rect x="161.42" y="175.60" width="16.27" height="16.25" fill="#5abada"/>
<rect x="161.92" y="176.10" width="15.22" height="15.20" fill="none" stroke="#ffffff" stroke-opacity="0.45" stroke-width="1"/>
<rect x="162.52" y="176.70" width="14.02" height="14.00" fill="none" stroke="#1a2228" stroke-opacity="0.45" stroke-width="0.75"/>
<text x="169.53" y="185.45" class="a" font-size="6.2" text-anchor="middle" fill="#111">-0.20</text>
<rect x="177.64" y="175.60" width="16.27" height="16.25" fill="#3eabd3"/>
<rect x="178.14" y="176.10" width="15.22" height="15.20" fill="none" stroke="#ffffff" stroke-opacity="0.45" stroke-width="1"/>
<rect x="178.74" y="176.70" width="14.02" height="14.00" fill="none" stroke="#1a2228" stroke-opacity="0.45" stroke-width="0.75"/>
<text x="185.75" y="185.45" class="a" font-size="6.2" text-anchor="middle" fill="#111">-0.23</text>
<text x="31.6" y="203.3" font-size="10.9" text-anchor="end" fill="#0a0a0a">850</text>
<line x1="33.2" y1="199.90" x2="35.0" y2="199.90" stroke="#333" stroke-width="0.6"/>
<line x1="143.4" y1="199.90" x2="145.2" y2="199.90" stroke="#333" stroke-width="0.6"/>
<rect x="35.00" y="191.80" width="16.35" height="16.25" fill="#6ec2df"/>
<rect x="35.50" y="192.30" width="15.30" height="15.20" fill="none" stroke="#ffffff" stroke-opacity="0.45" stroke-width="1"/>
<rect x="36.10" y="192.90" width="14.10" height="14.00" fill="none" stroke="#1a2228" stroke-opacity="0.45" stroke-width="0.75"/>
<text x="43.15" y="201.65" class="a" font-size="6.2" text-anchor="middle" fill="#111">-0.18</text>
<rect x="51.30" y="191.80" width="16.35" height="16.25" fill="#51b5d8"/>
<rect x="51.80" y="192.30" width="15.30" height="15.20" fill="none" stroke="#ffffff" stroke-opacity="0.45" stroke-width="1"/>
<rect x="52.40" y="192.90" width="14.10" height="14.00" fill="none" stroke="#1a2228" stroke-opacity="0.45" stroke-width="0.75"/>
<text x="59.45" y="201.65" class="a" font-size="6.2" text-anchor="middle" fill="#111">-0.21</text>
<rect x="67.60" y="191.80" width="16.35" height="16.25" fill="#51b5d8"/>
<rect x="68.10" y="192.30" width="15.30" height="15.20" fill="none" stroke="#ffffff" stroke-opacity="0.45" stroke-width="1"/>
<rect x="68.70" y="192.90" width="14.10" height="14.00" fill="none" stroke="#1a2228" stroke-opacity="0.45" stroke-width="0.75"/>
<text x="75.75" y="201.65" class="a" font-size="6.2" text-anchor="middle" fill="#111">-0.21</text>
<rect x="83.90" y="191.80" width="16.35" height="16.25" fill="#82cae4"/>
<rect x="84.40" y="192.30" width="15.30" height="15.20" fill="none" stroke="#ffffff" stroke-opacity="0.45" stroke-width="1"/>
<rect x="85.00" y="192.90" width="14.10" height="14.00" fill="none" stroke="#1a2228" stroke-opacity="0.45" stroke-width="0.75"/>
<text x="92.05" y="201.65" class="a" font-size="6.2" text-anchor="middle" fill="#111">-0.16</text>
<rect x="100.20" y="191.80" width="16.35" height="16.25" fill="#8ccee6"/>
<rect x="100.70" y="192.30" width="15.30" height="15.20" fill="none" stroke="#ffffff" stroke-opacity="0.45" stroke-width="1"/>
<rect x="101.30" y="192.90" width="14.10" height="14.00" fill="none" stroke="#1a2228" stroke-opacity="0.45" stroke-width="0.75"/>
<text x="108.35" y="201.65" class="a" font-size="6.2" text-anchor="middle" fill="#111">-0.15</text>
<rect x="116.50" y="191.80" width="16.35" height="16.25" fill="#8ccee6"/>
<rect x="117.00" y="192.30" width="15.30" height="15.20" fill="none" stroke="#ffffff" stroke-opacity="0.45" stroke-width="1"/>
<rect x="117.60" y="192.90" width="14.10" height="14.00" fill="none" stroke="#1a2228" stroke-opacity="0.45" stroke-width="0.75"/>
<text x="124.65" y="201.65" class="a" font-size="6.2" text-anchor="middle" fill="#111">-0.15</text>
<rect x="145.20" y="191.80" width="16.27" height="16.25" fill="#6ec2df"/>
<rect x="145.70" y="192.30" width="15.22" height="15.20" fill="none" stroke="#ffffff" stroke-opacity="0.45" stroke-width="1"/>
<rect x="146.30" y="192.90" width="14.02" height="14.00" fill="none" stroke="#1a2228" stroke-opacity="0.45" stroke-width="0.75"/>
<text x="153.31" y="201.65" class="a" font-size="6.2" text-anchor="middle" fill="#111">-0.18</text>
<rect x="161.42" y="191.80" width="16.27" height="16.25" fill="#78c6e1"/>
<rect x="161.92" y="192.30" width="15.22" height="15.20" fill="none" stroke="#ffffff" stroke-opacity="0.45" stroke-width="1"/>
<rect x="162.52" y="192.90" width="14.02" height="14.00" fill="none" stroke="#1a2228" stroke-opacity="0.45" stroke-width="0.75"/>
<text x="169.53" y="201.65" class="a" font-size="6.2" text-anchor="middle" fill="#111">-0.17</text>
<rect x="177.64" y="191.80" width="16.27" height="16.25" fill="#64bedc"/>
<rect x="178.14" y="192.30" width="15.22" height="15.20" fill="none" stroke="#ffffff" stroke-opacity="0.45" stroke-width="1"/>
<rect x="178.74" y="192.90" width="14.02" height="14.00" fill="none" stroke="#1a2228" stroke-opacity="0.45" stroke-width="0.75"/>
<text x="185.75" y="201.65" class="a" font-size="6.2" text-anchor="middle" fill="#111">-0.19</text>
<text x="31.6" y="219.5" font-size="10.9" text-anchor="end" fill="#0a0a0a">875</text>
<line x1="33.2" y1="216.10" x2="35.0" y2="216.10" stroke="#333" stroke-width="0.6"/>
<line x1="143.4" y1="216.10" x2="145.2" y2="216.10" stroke="#333" stroke-width="0.6"/>
<rect x="35.00" y="208.00" width="16.35" height="16.25" fill="#82cae4"/>
<rect x="35.50" y="208.50" width="15.30" height="15.20" fill="none" stroke="#ffffff" stroke-opacity="0.45" stroke-width="1"/>
<rect x="36.10" y="209.10" width="14.10" height="14.00" fill="none" stroke="#1a2228" stroke-opacity="0.45" stroke-width="0.75"/>
<text x="43.15" y="217.85" class="a" font-size="6.2" text-anchor="middle" fill="#111">-0.16</text>
<rect x="51.30" y="208.00" width="16.35" height="16.25" fill="#5abada"/>
<rect x="51.80" y="208.50" width="15.30" height="15.20" fill="none" stroke="#ffffff" stroke-opacity="0.45" stroke-width="1"/>
<rect x="52.40" y="209.10" width="14.10" height="14.00" fill="none" stroke="#1a2228" stroke-opacity="0.45" stroke-width="0.75"/>
<text x="59.45" y="217.85" class="a" font-size="6.2" text-anchor="middle" fill="#111">-0.20</text>
<rect x="67.60" y="208.00" width="16.35" height="16.25" fill="#78c6e1"/>
<rect x="68.10" y="208.50" width="15.30" height="15.20" fill="none" stroke="#ffffff" stroke-opacity="0.45" stroke-width="1"/>
<rect x="68.70" y="209.10" width="14.10" height="14.00" fill="none" stroke="#1a2228" stroke-opacity="0.45" stroke-width="0.75"/>
<text x="75.75" y="217.85" class="a" font-size="6.2" text-anchor="middle" fill="#111">-0.17</text>
<rect x="83.90" y="208.00" width="16.35" height="16.25" fill="#8ccee6"/>
<rect x="84.40" y="208.50" width="15.30" height="15.20" fill="none" stroke="#ffffff" stroke-opacity="0.45" stroke-width="1"/>
<rect x="85.00" y="209.10" width="14.10" height="14.00" fill="none" stroke="#1a2228" stroke-opacity="0.45" stroke-width="0.75"/>
<text x="92.05" y="217.85" class="a" font-size="6.2" text-anchor="middle" fill="#111">-0.15</text>
<rect x="100.20" y="208.00" width="16.35" height="16.25" fill="#9dd5ea"/>
<rect x="100.70" y="208.50" width="15.30" height="15.20" fill="none" stroke="#ffffff" stroke-opacity="0.45" stroke-width="1"/>
<rect x="101.30" y="209.10" width="14.10" height="14.00" fill="none" stroke="#1a2228" stroke-opacity="0.45" stroke-width="0.75"/>
<text x="108.35" y="217.85" class="a" font-size="6.2" text-anchor="middle" fill="#111">-0.13</text>
<rect x="116.50" y="208.00" width="16.35" height="16.25" fill="#aedced"/>
<rect x="117.00" y="208.50" width="15.30" height="15.20" fill="none" stroke="#ffffff" stroke-opacity="0.45" stroke-width="1"/>
<rect x="117.60" y="209.10" width="14.10" height="14.00" fill="none" stroke="#1a2228" stroke-opacity="0.45" stroke-width="0.75"/>
<text x="124.65" y="217.85" class="a" font-size="6.2" text-anchor="middle" fill="#111">-0.11</text>
<rect x="145.20" y="208.00" width="16.27" height="16.25" fill="#82cae4"/>
<rect x="145.70" y="208.50" width="15.22" height="15.20" fill="none" stroke="#ffffff" stroke-opacity="0.45" stroke-width="1"/>
<rect x="146.30" y="209.10" width="14.02" height="14.00" fill="none" stroke="#1a2228" stroke-opacity="0.45" stroke-width="0.75"/>
<text x="153.31" y="217.85" class="a" font-size="6.2" text-anchor="middle" fill="#111">-0.16</text>
<rect x="161.42" y="208.00" width="16.27" height="16.25" fill="#8ccee6"/>
<rect x="161.92" y="208.50" width="15.22" height="15.20" fill="none" stroke="#ffffff" stroke-opacity="0.45" stroke-width="1"/>
<rect x="162.52" y="209.10" width="14.02" height="14.00" fill="none" stroke="#1a2228" stroke-opacity="0.45" stroke-width="0.75"/>
<text x="169.53" y="217.85" class="a" font-size="6.2" text-anchor="middle" fill="#111">-0.15</text>
<rect x="177.64" y="208.00" width="16.27" height="16.25" fill="#82cae4"/>
<rect x="178.14" y="208.50" width="15.22" height="15.20" fill="none" stroke="#ffffff" stroke-opacity="0.45" stroke-width="1"/>
<rect x="178.74" y="209.10" width="14.02" height="14.00" fill="none" stroke="#1a2228" stroke-opacity="0.45" stroke-width="0.75"/>
<text x="185.75" y="217.85" class="a" font-size="6.2" text-anchor="middle" fill="#111">-0.16</text>
<text x="31.6" y="235.7" font-size="10.9" text-anchor="end" fill="#0a0a0a">900</text>
<line x1="33.2" y1="232.30" x2="35.0" y2="232.30" stroke="#333" stroke-width="0.6"/>
<line x1="143.4" y1="232.30" x2="145.2" y2="232.30" stroke="#333" stroke-width="0.6"/>
<rect x="35.00" y="224.20" width="16.35" height="16.25" fill="#c4e5f2"/>
<text x="43.15" y="234.05" class="a" font-size="6.2" text-anchor="middle" fill="#111">-0.08</text>
<rect x="51.30" y="224.20" width="16.35" height="16.25" fill="#bde2f0"/>
<text x="59.45" y="234.05" class="a" font-size="6.2" text-anchor="middle" fill="#111">-0.09</text>
<rect x="67.60" y="224.20" width="16.35" height="16.25" fill="#c4e5f2"/>
<text x="75.75" y="234.05" class="a" font-size="6.2" text-anchor="middle" fill="#111">-0.08</text>
<rect x="83.90" y="224.20" width="16.35" height="16.25" fill="#cbe7f3"/>
<text x="92.05" y="234.05" class="a" font-size="6.2" text-anchor="middle" fill="#111">-0.07</text>
<rect x="100.20" y="224.20" width="16.35" height="16.25" fill="#d2eaf5"/>
<text x="108.35" y="234.05" class="a" font-size="6.2" text-anchor="middle" fill="#111">-0.06</text>
<rect x="116.50" y="224.20" width="16.35" height="16.25" fill="#d2eaf5"/>
<text x="124.65" y="234.05" class="a" font-size="6.2" text-anchor="middle" fill="#111">-0.06</text>
<rect x="145.20" y="224.20" width="16.27" height="16.25" fill="#c4e5f2"/>
<text x="153.31" y="234.05" class="a" font-size="6.2" text-anchor="middle" fill="#111">-0.08</text>
<rect x="161.42" y="224.20" width="16.27" height="16.25" fill="#cbe7f3"/>
<text x="169.53" y="234.05" class="a" font-size="6.2" text-anchor="middle" fill="#111">-0.07</text>
<rect x="177.64" y="224.20" width="16.27" height="16.25" fill="#b6dfef"/>
<text x="185.75" y="234.05" class="a" font-size="6.2" text-anchor="middle" fill="#111">-0.10</text>
<line x1="43.15" y1="240.4" x2="43.15" y2="242.6" stroke="#333" stroke-width="0.6"/>
<text x="43.15" y="249.4" font-size="7.8" text-anchor="middle" fill="#0a0a0a">−42</text>
<line x1="59.45" y1="240.4" x2="59.45" y2="242.6" stroke="#333" stroke-width="0.6"/>
<text x="59.45" y="249.4" font-size="7.8" text-anchor="middle" fill="#0a0a0a">−36</text>
<line x1="75.75" y1="240.4" x2="75.75" y2="242.6" stroke="#333" stroke-width="0.6"/>
<text x="75.75" y="249.4" font-size="7.8" text-anchor="middle" fill="#0a0a0a">−30</text>
<line x1="92.05" y1="240.4" x2="92.05" y2="242.6" stroke="#333" stroke-width="0.6"/>
<text x="92.05" y="249.4" font-size="7.8" text-anchor="middle" fill="#0a0a0a">−24</text>
<line x1="108.35" y1="240.4" x2="108.35" y2="242.6" stroke="#333" stroke-width="0.6"/>
<text x="108.35" y="249.4" font-size="7.8" text-anchor="middle" fill="#0a0a0a">−18</text>
<line x1="124.65" y1="240.4" x2="124.65" y2="242.6" stroke="#333" stroke-width="0.6"/>
<text x="124.65" y="249.4" font-size="7.8" text-anchor="middle" fill="#0a0a0a">−12</text>
<line x1="153.31" y1="240.4" x2="153.31" y2="242.6" stroke="#333" stroke-width="0.6"/>
<text x="153.31" y="249.4" font-size="7.8" text-anchor="middle" fill="#0a0a0a">Mean</text>
<line x1="169.53" y1="240.4" x2="169.53" y2="242.6" stroke="#333" stroke-width="0.6"/>
<text x="169.53" y="249.4" font-size="7.8" text-anchor="middle" fill="#0a0a0a">Max</text>
<line x1="185.75" y1="240.4" x2="185.75" y2="242.6" stroke="#333" stroke-width="0.6"/>
<text x="185.75" y="249.4" font-size="7.8" text-anchor="middle" fill="#0a0a0a">Min</text>
<text x="83.90" y="261.4" font-size="11.6" text-anchor="middle" fill="#0a0a0a">Lead Time (min)</text>
<text x="169.03" y="261.4" font-size="11.6" text-anchor="middle" fill="#0a0a0a">in 30-min</text>
<text transform="translate(10.0,127.0) rotate(-90)" font-size="11.5" text-anchor="middle" fill="#0a0a0a">Pressure (hPa)</text>
<text x="262.2" y="11.0" font-size="11.4" fill="#0a0a0a">(b) Vertical Velocity vs Rainfall</text>
<text x="258.6" y="25.1" font-size="10.9" text-anchor="end" fill="#0a0a0a">400</text>
<line x1="260.2" y1="21.70" x2="262.0" y2="21.70" stroke="#333" stroke-width="0.6"/>
<line x1="370.0" y1="21.70" x2="371.8" y2="21.70" stroke="#333" stroke-width="0.6"/>
<rect x="262.00" y="13.60" width="16.35" height="16.25" fill="#a5d8eb"/>
<rect x="262.50" y="14.10" width="15.30" height="15.20" fill="none" stroke="#ffffff" stroke-opacity="0.45" stroke-width="1"/>
<rect x="263.10" y="14.70" width="14.10" height="14.00" fill="none" stroke="#1a2228" stroke-opacity="0.45" stroke-width="0.75"/>
<text x="270.15" y="23.45" class="a" font-size="6.2" text-anchor="middle" fill="#111">-0.12</text>
<rect x="278.30" y="13.60" width="16.35" height="16.25" fill="#94d1e8"/>
<rect x="278.80" y="14.10" width="15.30" height="15.20" fill="none" stroke="#ffffff" stroke-opacity="0.45" stroke-width="1"/>
<rect x="279.40" y="14.70" width="14.10" height="14.00" fill="none" stroke="#1a2228" stroke-opacity="0.45" stroke-width="0.75"/>
<text x="286.45" y="23.45" class="a" font-size="6.2" text-anchor="middle" fill="#111">-0.14</text>
<rect x="294.60" y="13.60" width="16.35" height="16.25" fill="#82cae4"/>
<rect x="295.10" y="14.10" width="15.30" height="15.20" fill="none" stroke="#ffffff" stroke-opacity="0.45" stroke-width="1"/>
<rect x="295.70" y="14.70" width="14.10" height="14.00" fill="none" stroke="#1a2228" stroke-opacity="0.45" stroke-width="0.75"/>
<text x="302.75" y="23.45" class="a" font-size="6.2" text-anchor="middle" fill="#111">-0.16</text>
<rect x="310.90" y="13.60" width="16.35" height="16.25" fill="#bde2f0"/>
<rect x="311.40" y="14.10" width="15.30" height="15.20" fill="none" stroke="#ffffff" stroke-opacity="0.45" stroke-width="1"/>
<rect x="312.00" y="14.70" width="14.10" height="14.00" fill="none" stroke="#1a2228" stroke-opacity="0.45" stroke-width="0.75"/>
<text x="319.05" y="23.45" class="a" font-size="6.2" text-anchor="middle" fill="#111">-0.09</text>
<rect x="327.20" y="13.60" width="16.35" height="16.25" fill="#bde2f0"/>
<rect x="327.70" y="14.10" width="15.30" height="15.20" fill="none" stroke="#ffffff" stroke-opacity="0.45" stroke-width="1"/>
<rect x="328.30" y="14.70" width="14.10" height="14.00" fill="none" stroke="#1a2228" stroke-opacity="0.45" stroke-width="0.75"/>
<text x="335.35" y="23.45" class="a" font-size="6.2" text-anchor="middle" fill="#111">-0.09</text>
<rect x="343.50" y="13.60" width="16.35" height="16.25" fill="#bde2f0"/>
<rect x="344.00" y="14.10" width="15.30" height="15.20" fill="none" stroke="#ffffff" stroke-opacity="0.45" stroke-width="1"/>
<rect x="344.60" y="14.70" width="14.10" height="14.00" fill="none" stroke="#1a2228" stroke-opacity="0.45" stroke-width="0.75"/>
<text x="351.65" y="23.45" class="a" font-size="6.2" text-anchor="middle" fill="#111">-0.09</text>
<rect x="371.80" y="13.60" width="16.27" height="16.25" fill="#a5d8eb"/>
<rect x="372.30" y="14.10" width="15.22" height="15.20" fill="none" stroke="#ffffff" stroke-opacity="0.45" stroke-width="1"/>
<rect x="372.90" y="14.70" width="14.02" height="14.00" fill="none" stroke="#1a2228" stroke-opacity="0.45" stroke-width="0.75"/>
<text x="379.91" y="23.45" class="a" font-size="6.2" text-anchor="middle" fill="#111">-0.12</text>
<rect x="388.02" y="13.60" width="16.27" height="16.25" fill="#cbe7f3"/>
<rect x="388.52" y="14.10" width="15.22" height="15.20" fill="none" stroke="#ffffff" stroke-opacity="0.45" stroke-width="1"/>
<rect x="389.12" y="14.70" width="14.02" height="14.00" fill="none" stroke="#1a2228" stroke-opacity="0.45" stroke-width="0.75"/>
<text x="396.13" y="23.45" class="a" font-size="6.2" text-anchor="middle" fill="#111">-0.07</text>
<rect x="404.24" y="13.60" width="16.27" height="16.25" fill="#9dd5ea"/>
<rect x="404.74" y="14.10" width="15.22" height="15.20" fill="none" stroke="#ffffff" stroke-opacity="0.45" stroke-width="1"/>
<rect x="405.34" y="14.70" width="14.02" height="14.00" fill="none" stroke="#1a2228" stroke-opacity="0.45" stroke-width="0.75"/>
<text x="412.35" y="23.45" class="a" font-size="6.2" text-anchor="middle" fill="#111">-0.13</text>
<text x="258.6" y="41.3" font-size="10.9" text-anchor="end" fill="#0a0a0a">450</text>
<line x1="260.2" y1="37.90" x2="262.0" y2="37.90" stroke="#333" stroke-width="0.6"/>
<line x1="370.0" y1="37.90" x2="371.8" y2="37.90" stroke="#333" stroke-width="0.6"/>
<rect x="262.00" y="29.80" width="16.35" height="16.25" fill="#aedced"/>
<rect x="262.50" y="30.30" width="15.30" height="15.20" fill="none" stroke="#ffffff" stroke-opacity="0.45" stroke-width="1"/>
<rect x="263.10" y="30.90" width="14.10" height="14.00" fill="none" stroke="#1a2228" stroke-opacity="0.45" stroke-width="0.75"/>
<text x="270.15" y="39.65" class="a" font-size="6.2" text-anchor="middle" fill="#111">-0.11</text>
<rect x="278.30" y="29.80" width="16.35" height="16.25" fill="#a5d8eb"/>
<rect x="278.80" y="30.30" width="15.30" height="15.20" fill="none" stroke="#ffffff" stroke-opacity="0.45" stroke-width="1"/>
<rect x="279.40" y="30.90" width="14.10" height="14.00" fill="none" stroke="#1a2228" stroke-opacity="0.45" stroke-width="0.75"/>
<text x="286.45" y="39.65" class="a" font-size="6.2" text-anchor="middle" fill="#111">-0.12</text>
<rect x="294.60" y="29.80" width="16.35" height="16.25" fill="#94d1e8"/>
<rect x="295.10" y="30.30" width="15.30" height="15.20" fill="none" stroke="#ffffff" stroke-opacity="0.45" stroke-width="1"/>
<rect x="295.70" y="30.90" width="14.10" height="14.00" fill="none" stroke="#1a2228" stroke-opacity="0.45" stroke-width="0.75"/>
<text x="302.75" y="39.65" class="a" font-size="6.2" text-anchor="middle" fill="#111">-0.14</text>
<rect x="310.90" y="29.80" width="16.35" height="16.25" fill="#c4e5f2"/>
<rect x="311.40" y="30.30" width="15.30" height="15.20" fill="none" stroke="#ffffff" stroke-opacity="0.45" stroke-width="1"/>
<rect x="312.00" y="30.90" width="14.10" height="14.00" fill="none" stroke="#1a2228" stroke-opacity="0.45" stroke-width="0.75"/>
<text x="319.05" y="39.65" class="a" font-size="6.2" text-anchor="middle" fill="#111">-0.08</text>
<rect x="327.20" y="29.80" width="16.35" height="16.25" fill="#cbe7f3"/>
<rect x="327.70" y="30.30" width="15.30" height="15.20" fill="none" stroke="#ffffff" stroke-opacity="0.45" stroke-width="1"/>
<rect x="328.30" y="30.90" width="14.10" height="14.00" fill="none" stroke="#1a2228" stroke-opacity="0.45" stroke-width="0.75"/>
<text x="335.35" y="39.65" class="a" font-size="6.2" text-anchor="middle" fill="#111">-0.07</text>
<rect x="343.50" y="29.80" width="16.35" height="16.25" fill="#c4e5f2"/>
<rect x="344.00" y="30.30" width="15.30" height="15.20" fill="none" stroke="#ffffff" stroke-opacity="0.45" stroke-width="1"/>
<rect x="344.60" y="30.90" width="14.10" height="14.00" fill="none" stroke="#1a2228" stroke-opacity="0.45" stroke-width="0.75"/>
<text x="351.65" y="39.65" class="a" font-size="6.2" text-anchor="middle" fill="#111">-0.08</text>
<rect x="371.80" y="29.80" width="16.27" height="16.25" fill="#aedced"/>
<rect x="372.30" y="30.30" width="15.22" height="15.20" fill="none" stroke="#ffffff" stroke-opacity="0.45" stroke-width="1"/>
<rect x="372.90" y="30.90" width="14.02" height="14.00" fill="none" stroke="#1a2228" stroke-opacity="0.45" stroke-width="0.75"/>
<text x="379.91" y="39.65" class="a" font-size="6.2" text-anchor="middle" fill="#111">-0.11</text>
<rect x="388.02" y="29.80" width="16.27" height="16.25" fill="#d2eaf5"/>
<rect x="388.52" y="30.30" width="15.22" height="15.20" fill="none" stroke="#ffffff" stroke-opacity="0.45" stroke-width="1"/>
<rect x="389.12" y="30.90" width="14.02" height="14.00" fill="none" stroke="#1a2228" stroke-opacity="0.45" stroke-width="0.75"/>
<text x="396.13" y="39.65" class="a" font-size="6.2" text-anchor="middle" fill="#111">-0.06</text>
<rect x="404.24" y="29.80" width="16.27" height="16.25" fill="#aedced"/>
<rect x="404.74" y="30.30" width="15.22" height="15.20" fill="none" stroke="#ffffff" stroke-opacity="0.45" stroke-width="1"/>
<rect x="405.34" y="30.90" width="14.02" height="14.00" fill="none" stroke="#1a2228" stroke-opacity="0.45" stroke-width="0.75"/>
<text x="412.35" y="39.65" class="a" font-size="6.2" text-anchor="middle" fill="#111">-0.11</text>
<text x="258.6" y="57.5" font-size="10.9" text-anchor="end" fill="#0a0a0a">500</text>
<line x1="260.2" y1="54.10" x2="262.0" y2="54.10" stroke="#333" stroke-width="0.6"/>
<line x1="370.0" y1="54.10" x2="371.8" y2="54.10" stroke="#333" stroke-width="0.6"/>
<rect x="262.00" y="46.00" width="16.35" height="16.25" fill="#aedced"/>
<rect x="262.50" y="46.50" width="15.30" height="15.20" fill="none" stroke="#ffffff" stroke-opacity="0.45" stroke-width="1"/>
<rect x="263.10" y="47.10" width="14.10" height="14.00" fill="none" stroke="#1a2228" stroke-opacity="0.45" stroke-width="0.75"/>
<text x="270.15" y="55.85" class="a" font-size="6.2" text-anchor="middle" fill="#111">-0.11</text>
<rect x="278.30" y="46.00" width="16.35" height="16.25" fill="#a5d8eb"/>
<rect x="278.80" y="46.50" width="15.30" height="15.20" fill="none" stroke="#ffffff" stroke-opacity="0.45" stroke-width="1"/>
<rect x="279.40" y="47.10" width="14.10" height="14.00" fill="none" stroke="#1a2228" stroke-opacity="0.45" stroke-width="0.75"/>
<text x="286.45" y="55.85" class="a" font-size="6.2" text-anchor="middle" fill="#111">-0.12</text>
<rect x="294.60" y="46.00" width="16.35" height="16.25" fill="#9dd5ea"/>
<rect x="295.10" y="46.50" width="15.30" height="15.20" fill="none" stroke="#ffffff" stroke-opacity="0.45" stroke-width="1"/>
<rect x="295.70" y="47.10" width="14.10" height="14.00" fill="none" stroke="#1a2228" stroke-opacity="0.45" stroke-width="0.75"/>
<text x="302.75" y="55.85" class="a" font-size="6.2" text-anchor="middle" fill="#111">-0.13</text>
<rect x="310.90" y="46.00" width="16.35" height="16.25" fill="#c4e5f2"/>
<rect x="311.40" y="46.50" width="15.30" height="15.20" fill="none" stroke="#ffffff" stroke-opacity="0.45" stroke-width="1"/>
<rect x="312.00" y="47.10" width="14.10" height="14.00" fill="none" stroke="#1a2228" stroke-opacity="0.45" stroke-width="0.75"/>
<text x="319.05" y="55.85" class="a" font-size="6.2" text-anchor="middle" fill="#111">-0.08</text>
<rect x="327.20" y="46.00" width="16.35" height="16.25" fill="#c4e5f2"/>
<rect x="327.70" y="46.50" width="15.30" height="15.20" fill="none" stroke="#ffffff" stroke-opacity="0.45" stroke-width="1"/>
<rect x="328.30" y="47.10" width="14.10" height="14.00" fill="none" stroke="#1a2228" stroke-opacity="0.45" stroke-width="0.75"/>
<text x="335.35" y="55.85" class="a" font-size="6.2" text-anchor="middle" fill="#111">-0.08</text>
<rect x="343.50" y="46.00" width="16.35" height="16.25" fill="#c4e5f2"/>
<rect x="344.00" y="46.50" width="15.30" height="15.20" fill="none" stroke="#ffffff" stroke-opacity="0.45" stroke-width="1"/>
<rect x="344.60" y="47.10" width="14.10" height="14.00" fill="none" stroke="#1a2228" stroke-opacity="0.45" stroke-width="0.75"/>
<text x="351.65" y="55.85" class="a" font-size="6.2" text-anchor="middle" fill="#111">-0.08</text>
<rect x="371.80" y="46.00" width="16.27" height="16.25" fill="#aedced"/>
<rect x="372.30" y="46.50" width="15.22" height="15.20" fill="none" stroke="#ffffff" stroke-opacity="0.45" stroke-width="1"/>
<rect x="372.90" y="47.10" width="14.02" height="14.00" fill="none" stroke="#1a2228" stroke-opacity="0.45" stroke-width="0.75"/>
<text x="379.91" y="55.85" class="a" font-size="6.2" text-anchor="middle" fill="#111">-0.11</text>
<rect x="388.02" y="46.00" width="16.27" height="16.25" fill="#d2eaf5"/>
<rect x="388.52" y="46.50" width="15.22" height="15.20" fill="none" stroke="#ffffff" stroke-opacity="0.45" stroke-width="1"/>
<rect x="389.12" y="47.10" width="14.02" height="14.00" fill="none" stroke="#1a2228" stroke-opacity="0.45" stroke-width="0.75"/>
<text x="396.13" y="55.85" class="a" font-size="6.2" text-anchor="middle" fill="#111">-0.06</text>
<rect x="404.24" y="46.00" width="16.27" height="16.25" fill="#a5d8eb"/>
<rect x="404.74" y="46.50" width="15.22" height="15.20" fill="none" stroke="#ffffff" stroke-opacity="0.45" stroke-width="1"/>
<rect x="405.34" y="47.10" width="14.02" height="14.00" fill="none" stroke="#1a2228" stroke-opacity="0.45" stroke-width="0.75"/>
<text x="412.35" y="55.85" class="a" font-size="6.2" text-anchor="middle" fill="#111">-0.12</text>
<text x="258.6" y="73.7" font-size="10.9" text-anchor="end" fill="#0a0a0a">550</text>
<line x1="260.2" y1="70.30" x2="262.0" y2="70.30" stroke="#333" stroke-width="0.6"/>
<line x1="370.0" y1="70.30" x2="371.8" y2="70.30" stroke="#333" stroke-width="0.6"/>
<rect x="262.00" y="62.20" width="16.35" height="16.25" fill="#aedced"/>
<rect x="262.50" y="62.70" width="15.30" height="15.20" fill="none" stroke="#ffffff" stroke-opacity="0.45" stroke-width="1"/>
<rect x="263.10" y="63.30" width="14.10" height="14.00" fill="none" stroke="#1a2228" stroke-opacity="0.45" stroke-width="0.75"/>
<text x="270.15" y="72.05" class="a" font-size="6.2" text-anchor="middle" fill="#111">-0.11</text>
<rect x="278.30" y="62.20" width="16.35" height="16.25" fill="#a5d8eb"/>
<rect x="278.80" y="62.70" width="15.30" height="15.20" fill="none" stroke="#ffffff" stroke-opacity="0.45" stroke-width="1"/>
<rect x="279.40" y="63.30" width="14.10" height="14.00" fill="none" stroke="#1a2228" stroke-opacity="0.45" stroke-width="0.75"/>
<text x="286.45" y="72.05" class="a" font-size="6.2" text-anchor="middle" fill="#111">-0.12</text>
<rect x="294.60" y="62.20" width="16.35" height="16.25" fill="#94d1e8"/>
<rect x="295.10" y="62.70" width="15.30" height="15.20" fill="none" stroke="#ffffff" stroke-opacity="0.45" stroke-width="1"/>
<rect x="295.70" y="63.30" width="14.10" height="14.00" fill="none" stroke="#1a2228" stroke-opacity="0.45" stroke-width="0.75"/>
<text x="302.75" y="72.05" class="a" font-size="6.2" text-anchor="middle" fill="#111">-0.14</text>
<rect x="310.90" y="62.20" width="16.35" height="16.25" fill="#bde2f0"/>
<rect x="311.40" y="62.70" width="15.30" height="15.20" fill="none" stroke="#ffffff" stroke-opacity="0.45" stroke-width="1"/>
<rect x="312.00" y="63.30" width="14.10" height="14.00" fill="none" stroke="#1a2228" stroke-opacity="0.45" stroke-width="0.75"/>
<text x="319.05" y="72.05" class="a" font-size="6.2" text-anchor="middle" fill="#111">-0.09</text>
<rect x="327.20" y="62.20" width="16.35" height="16.25" fill="#bde2f0"/>
<rect x="327.70" y="62.70" width="15.30" height="15.20" fill="none" stroke="#ffffff" stroke-opacity="0.45" stroke-width="1"/>
<rect x="328.30" y="63.30" width="14.10" height="14.00" fill="none" stroke="#1a2228" stroke-opacity="0.45" stroke-width="0.75"/>
<text x="335.35" y="72.05" class="a" font-size="6.2" text-anchor="middle" fill="#111">-0.09</text>
<rect x="343.50" y="62.20" width="16.35" height="16.25" fill="#bde2f0"/>
<rect x="344.00" y="62.70" width="15.30" height="15.20" fill="none" stroke="#ffffff" stroke-opacity="0.45" stroke-width="1"/>
<rect x="344.60" y="63.30" width="14.10" height="14.00" fill="none" stroke="#1a2228" stroke-opacity="0.45" stroke-width="0.75"/>
<text x="351.65" y="72.05" class="a" font-size="6.2" text-anchor="middle" fill="#111">-0.09</text>
<rect x="371.80" y="62.20" width="16.27" height="16.25" fill="#aedced"/>
<rect x="372.30" y="62.70" width="15.22" height="15.20" fill="none" stroke="#ffffff" stroke-opacity="0.45" stroke-width="1"/>
<rect x="372.90" y="63.30" width="14.02" height="14.00" fill="none" stroke="#1a2228" stroke-opacity="0.45" stroke-width="0.75"/>
<text x="379.91" y="72.05" class="a" font-size="6.2" text-anchor="middle" fill="#111">-0.11</text>
<rect x="388.02" y="62.20" width="16.27" height="16.25" fill="#cbe7f3"/>
<rect x="388.52" y="62.70" width="15.22" height="15.20" fill="none" stroke="#ffffff" stroke-opacity="0.45" stroke-width="1"/>
<rect x="389.12" y="63.30" width="14.02" height="14.00" fill="none" stroke="#1a2228" stroke-opacity="0.45" stroke-width="0.75"/>
<text x="396.13" y="72.05" class="a" font-size="6.2" text-anchor="middle" fill="#111">-0.07</text>
<rect x="404.24" y="62.20" width="16.27" height="16.25" fill="#a5d8eb"/>
<rect x="404.74" y="62.70" width="15.22" height="15.20" fill="none" stroke="#ffffff" stroke-opacity="0.45" stroke-width="1"/>
<rect x="405.34" y="63.30" width="14.02" height="14.00" fill="none" stroke="#1a2228" stroke-opacity="0.45" stroke-width="0.75"/>
<text x="412.35" y="72.05" class="a" font-size="6.2" text-anchor="middle" fill="#111">-0.12</text>
<text x="258.6" y="89.9" font-size="10.9" text-anchor="end" fill="#0a0a0a">600</text>
<line x1="260.2" y1="86.50" x2="262.0" y2="86.50" stroke="#333" stroke-width="0.6"/>
<line x1="370.0" y1="86.50" x2="371.8" y2="86.50" stroke="#333" stroke-width="0.6"/>
<rect x="262.00" y="78.40" width="16.35" height="16.25" fill="#8ccee6"/>
<rect x="262.50" y="78.90" width="15.30" height="15.20" fill="none" stroke="#ffffff" stroke-opacity="0.45" stroke-width="1"/>
<rect x="263.10" y="79.50" width="14.10" height="14.00" fill="none" stroke="#1a2228" stroke-opacity="0.45" stroke-width="0.75"/>
<text x="270.15" y="88.25" class="a" font-size="6.2" text-anchor="middle" fill="#111">-0.15</text>
<rect x="278.30" y="78.40" width="16.35" height="16.25" fill="#8ccee6"/>
<rect x="278.80" y="78.90" width="15.30" height="15.20" fill="none" stroke="#ffffff" stroke-opacity="0.45" stroke-width="1"/>
<rect x="279.40" y="79.50" width="14.10" height="14.00" fill="none" stroke="#1a2228" stroke-opacity="0.45" stroke-width="0.75"/>
<text x="286.45" y="88.25" class="a" font-size="6.2" text-anchor="middle" fill="#111">-0.15</text>
<rect x="294.60" y="78.40" width="16.35" height="16.25" fill="#82cae4"/>
<rect x="295.10" y="78.90" width="15.30" height="15.20" fill="none" stroke="#ffffff" stroke-opacity="0.45" stroke-width="1"/>
<rect x="295.70" y="79.50" width="14.10" height="14.00" fill="none" stroke="#1a2228" stroke-opacity="0.45" stroke-width="0.75"/>
<text x="302.75" y="88.25" class="a" font-size="6.2" text-anchor="middle" fill="#111">-0.16</text>
<rect x="310.90" y="78.40" width="16.35" height="16.25" fill="#a5d8eb"/>
<rect x="311.40" y="78.90" width="15.30" height="15.20" fill="none" stroke="#ffffff" stroke-opacity="0.45" stroke-width="1"/>
<rect x="312.00" y="79.50" width="14.10" height="14.00" fill="none" stroke="#1a2228" stroke-opacity="0.45" stroke-width="0.75"/>
<text x="319.05" y="88.25" class="a" font-size="6.2" text-anchor="middle" fill="#111">-0.12</text>
<rect x="327.20" y="78.40" width="16.35" height="16.25" fill="#a5d8eb"/>
<rect x="327.70" y="78.90" width="15.30" height="15.20" fill="none" stroke="#ffffff" stroke-opacity="0.45" stroke-width="1"/>
<rect x="328.30" y="79.50" width="14.10" height="14.00" fill="none" stroke="#1a2228" stroke-opacity="0.45" stroke-width="0.75"/>
<text x="335.35" y="88.25" class="a" font-size="6.2" text-anchor="middle" fill="#111">-0.12</text>
<rect x="343.50" y="78.40" width="16.35" height="16.25" fill="#9dd5ea"/>
<rect x="344.00" y="78.90" width="15.30" height="15.20" fill="none" stroke="#ffffff" stroke-opacity="0.45" stroke-width="1"/>
<rect x="344.60" y="79.50" width="14.10" height="14.00" fill="none" stroke="#1a2228" stroke-opacity="0.45" stroke-width="0.75"/>
<text x="351.65" y="88.25" class="a" font-size="6.2" text-anchor="middle" fill="#111">-0.13</text>
<rect x="371.80" y="78.40" width="16.27" height="16.25" fill="#8ccee6"/>
<rect x="372.30" y="78.90" width="15.22" height="15.20" fill="none" stroke="#ffffff" stroke-opacity="0.45" stroke-width="1"/>
<rect x="372.90" y="79.50" width="14.02" height="14.00" fill="none" stroke="#1a2228" stroke-opacity="0.45" stroke-width="0.75"/>
<text x="379.91" y="88.25" class="a" font-size="6.2" text-anchor="middle" fill="#111">-0.15</text>
<rect x="388.02" y="78.40" width="16.27" height="16.25" fill="#b6dfef"/>
<rect x="388.52" y="78.90" width="15.22" height="15.20" fill="none" stroke="#ffffff" stroke-opacity="0.45" stroke-width="1"/>
<rect x="389.12" y="79.50" width="14.02" height="14.00" fill="none" stroke="#1a2228" stroke-opacity="0.45" stroke-width="0.75"/>
<text x="396.13" y="88.25" class="a" font-size="6.2" text-anchor="middle" fill="#111">-0.10</text>
<rect x="404.24" y="78.40" width="16.27" height="16.25" fill="#8ccee6"/>
<rect x="404.74" y="78.90" width="15.22" height="15.20" fill="none" stroke="#ffffff" stroke-opacity="0.45" stroke-width="1"/>
<rect x="405.34" y="79.50" width="14.02" height="14.00" fill="none" stroke="#1a2228" stroke-opacity="0.45" stroke-width="0.75"/>
<text x="412.35" y="88.25" class="a" font-size="6.2" text-anchor="middle" fill="#111">-0.15</text>
<text x="258.6" y="106.1" font-size="10.9" text-anchor="end" fill="#0a0a0a">650</text>
<line x1="260.2" y1="102.70" x2="262.0" y2="102.70" stroke="#333" stroke-width="0.6"/>
<line x1="370.0" y1="102.70" x2="371.8" y2="102.70" stroke="#333" stroke-width="0.6"/>
<rect x="262.00" y="94.60" width="16.35" height="16.25" fill="#5abada"/>
<rect x="262.50" y="95.10" width="15.30" height="15.20" fill="none" stroke="#ffffff" stroke-opacity="0.45" stroke-width="1"/>
<rect x="263.10" y="95.70" width="14.10" height="14.00" fill="none" stroke="#1a2228" stroke-opacity="0.45" stroke-width="0.75"/>
<text x="270.15" y="104.45" class="a" font-size="6.2" text-anchor="middle" fill="#111">-0.20</text>
<rect x="278.30" y="94.60" width="16.35" height="16.25" fill="#64bedc"/>
<rect x="278.80" y="95.10" width="15.30" height="15.20" fill="none" stroke="#ffffff" stroke-opacity="0.45" stroke-width="1"/>
<rect x="279.40" y="95.70" width="14.10" height="14.00" fill="none" stroke="#1a2228" stroke-opacity="0.45" stroke-width="0.75"/>
<text x="286.45" y="104.45" class="a" font-size="6.2" text-anchor="middle" fill="#111">-0.19</text>
<rect x="294.60" y="94.60" width="16.35" height="16.25" fill="#5abada"/>
<rect x="295.10" y="95.10" width="15.30" height="15.20" fill="none" stroke="#ffffff" stroke-opacity="0.45" stroke-width="1"/>
<rect x="295.70" y="95.70" width="14.10" height="14.00" fill="none" stroke="#1a2228" stroke-opacity="0.45" stroke-width="0.75"/>
<text x="302.75" y="104.45" class="a" font-size="6.2" text-anchor="middle" fill="#111">-0.20</text>
<rect x="310.90" y="94.60" width="16.35" height="16.25" fill="#82cae4"/>
<rect x="311.40" y="95.10" width="15.30" height="15.20" fill="none" stroke="#ffffff" stroke-opacity="0.45" stroke-width="1"/>
<rect x="312.00" y="95.70" width="14.10" height="14.00" fill="none" stroke="#1a2228" stroke-opacity="0.45" stroke-width="0.75"/>
<text x="319.05" y="104.45" class="a" font-size="6.2" text-anchor="middle" fill="#111">-0.16</text>
<rect x="327.20" y="94.60" width="16.35" height="16.25" fill="#78c6e1"/>
<rect x="327.70" y="95.10" width="15.30" height="15.20" fill="none" stroke="#ffffff" stroke-opacity="0.45" stroke-width="1"/>
<rect x="328.30" y="95.70" width="14.10" height="14.00" fill="none" stroke="#1a2228" stroke-opacity="0.45" stroke-width="0.75"/>
<text x="335.35" y="104.45" class="a" font-size="6.2" text-anchor="middle" fill="#111">-0.17</text>
<rect x="343.50" y="94.60" width="16.35" height="16.25" fill="#6ec2df"/>
<rect x="344.00" y="95.10" width="15.30" height="15.20" fill="none" stroke="#ffffff" stroke-opacity="0.45" stroke-width="1"/>
<rect x="344.60" y="95.70" width="14.10" height="14.00" fill="none" stroke="#1a2228" stroke-opacity="0.45" stroke-width="0.75"/>
<text x="351.65" y="104.45" class="a" font-size="6.2" text-anchor="middle" fill="#111">-0.18</text>
<rect x="371.80" y="94.60" width="16.27" height="16.25" fill="#5abada"/>
<rect x="372.30" y="95.10" width="15.22" height="15.20" fill="none" stroke="#ffffff" stroke-opacity="0.45" stroke-width="1"/>
<rect x="372.90" y="95.70" width="14.02" height="14.00" fill="none" stroke="#1a2228" stroke-opacity="0.45" stroke-width="0.75"/>
<text x="379.91" y="104.45" class="a" font-size="6.2" text-anchor="middle" fill="#111">-0.20</text>
<rect x="388.02" y="94.60" width="16.27" height="16.25" fill="#94d1e8"/>
<rect x="388.52" y="95.10" width="15.22" height="15.20" fill="none" stroke="#ffffff" stroke-opacity="0.45" stroke-width="1"/>
<rect x="389.12" y="95.70" width="14.02" height="14.00" fill="none" stroke="#1a2228" stroke-opacity="0.45" stroke-width="0.75"/>
<text x="396.13" y="104.45" class="a" font-size="6.2" text-anchor="middle" fill="#111">-0.14</text>
<rect x="404.24" y="94.60" width="16.27" height="16.25" fill="#5abada"/>
<rect x="404.74" y="95.10" width="15.22" height="15.20" fill="none" stroke="#ffffff" stroke-opacity="0.45" stroke-width="1"/>
<rect x="405.34" y="95.70" width="14.02" height="14.00" fill="none" stroke="#1a2228" stroke-opacity="0.45" stroke-width="0.75"/>
<text x="412.35" y="104.45" class="a" font-size="6.2" text-anchor="middle" fill="#111">-0.20</text>
<text x="258.6" y="122.3" font-size="10.9" text-anchor="end" fill="#0a0a0a">700</text>
<line x1="260.2" y1="118.90" x2="262.0" y2="118.90" stroke="#333" stroke-width="0.6"/>
<line x1="370.0" y1="118.90" x2="371.8" y2="118.90" stroke="#333" stroke-width="0.6"/>
<rect x="262.00" y="110.80" width="16.35" height="16.25" fill="#47b0d6"/>
<rect x="262.50" y="111.30" width="15.30" height="15.20" fill="none" stroke="#ffffff" stroke-opacity="0.45" stroke-width="1"/>
<rect x="263.10" y="111.90" width="14.10" height="14.00" fill="none" stroke="#1a2228" stroke-opacity="0.45" stroke-width="0.75"/>
<text x="270.15" y="120.65" class="a" font-size="6.2" text-anchor="middle" fill="#111">-0.22</text>
<rect x="278.30" y="110.80" width="16.35" height="16.25" fill="#51b5d8"/>
<rect x="278.80" y="111.30" width="15.30" height="15.20" fill="none" stroke="#ffffff" stroke-opacity="0.45" stroke-width="1"/>
<rect x="279.40" y="111.90" width="14.10" height="14.00" fill="none" stroke="#1a2228" stroke-opacity="0.45" stroke-width="0.75"/>
<text x="286.45" y="120.65" class="a" font-size="6.2" text-anchor="middle" fill="#111">-0.21</text>
<rect x="294.60" y="110.80" width="16.35" height="16.25" fill="#51b5d8"/>
<rect x="295.10" y="111.30" width="15.30" height="15.20" fill="none" stroke="#ffffff" stroke-opacity="0.45" stroke-width="1"/>
<rect x="295.70" y="111.90" width="14.10" height="14.00" fill="none" stroke="#1a2228" stroke-opacity="0.45" stroke-width="0.75"/>
<text x="302.75" y="120.65" class="a" font-size="6.2" text-anchor="middle" fill="#111">-0.21</text>
<rect x="310.90" y="110.80" width="16.35" height="16.25" fill="#6ec2df"/>
<rect x="311.40" y="111.30" width="15.30" height="15.20" fill="none" stroke="#ffffff" stroke-opacity="0.45" stroke-width="1"/>
<rect x="312.00" y="111.90" width="14.10" height="14.00" fill="none" stroke="#1a2228" stroke-opacity="0.45" stroke-width="0.75"/>
<text x="319.05" y="120.65" class="a" font-size="6.2" text-anchor="middle" fill="#111">-0.18</text>
<rect x="327.20" y="110.80" width="16.35" height="16.25" fill="#5abada"/>
<rect x="327.70" y="111.30" width="15.30" height="15.20" fill="none" stroke="#ffffff" stroke-opacity="0.45" stroke-width="1"/>
<rect x="328.30" y="111.90" width="14.10" height="14.00" fill="none" stroke="#1a2228" stroke-opacity="0.45" stroke-width="0.75"/>
<text x="335.35" y="120.65" class="a" font-size="6.2" text-anchor="middle" fill="#111">-0.20</text>
<rect x="343.50" y="110.80" width="16.35" height="16.25" fill="#5abada"/>
<rect x="344.00" y="111.30" width="15.30" height="15.20" fill="none" stroke="#ffffff" stroke-opacity="0.45" stroke-width="1"/>
<rect x="344.60" y="111.90" width="14.10" height="14.00" fill="none" stroke="#1a2228" stroke-opacity="0.45" stroke-width="0.75"/>
<text x="351.65" y="120.65" class="a" font-size="6.2" text-anchor="middle" fill="#111">-0.20</text>
<rect x="371.80" y="110.80" width="16.27" height="16.25" fill="#47b0d6"/>
<rect x="372.30" y="111.30" width="15.22" height="15.20" fill="none" stroke="#ffffff" stroke-opacity="0.45" stroke-width="1"/>
<rect x="372.90" y="111.90" width="14.02" height="14.00" fill="none" stroke="#1a2228" stroke-opacity="0.45" stroke-width="0.75"/>
<text x="379.91" y="120.65" class="a" font-size="6.2" text-anchor="middle" fill="#111">-0.22</text>
<rect x="388.02" y="110.80" width="16.27" height="16.25" fill="#6ec2df"/>
<rect x="388.52" y="111.30" width="15.22" height="15.20" fill="none" stroke="#ffffff" stroke-opacity="0.45" stroke-width="1"/>
<rect x="389.12" y="111.90" width="14.02" height="14.00" fill="none" stroke="#1a2228" stroke-opacity="0.45" stroke-width="0.75"/>
<text x="396.13" y="120.65" class="a" font-size="6.2" text-anchor="middle" fill="#111">-0.18</text>
<rect x="404.24" y="110.80" width="16.27" height="16.25" fill="#47b0d6"/>
<rect x="404.74" y="111.30" width="15.22" height="15.20" fill="none" stroke="#ffffff" stroke-opacity="0.45" stroke-width="1"/>
<rect x="405.34" y="111.90" width="14.02" height="14.00" fill="none" stroke="#1a2228" stroke-opacity="0.45" stroke-width="0.75"/>
<text x="412.35" y="120.65" class="a" font-size="6.2" text-anchor="middle" fill="#111">-0.22</text>
<text x="258.6" y="138.5" font-size="10.9" text-anchor="end" fill="#0a0a0a">750</text>
<line x1="260.2" y1="135.10" x2="262.0" y2="135.10" stroke="#333" stroke-width="0.6"/>
<line x1="370.0" y1="135.10" x2="371.8" y2="135.10" stroke="#333" stroke-width="0.6"/>
<rect x="262.00" y="127.00" width="16.35" height="16.25" fill="#5abada"/>
<rect x="262.50" y="127.50" width="15.30" height="15.20" fill="none" stroke="#ffffff" stroke-opacity="0.45" stroke-width="1"/>
<rect x="263.10" y="128.10" width="14.10" height="14.00" fill="none" stroke="#1a2228" stroke-opacity="0.45" stroke-width="0.75"/>
<text x="270.15" y="136.85" class="a" font-size="6.2" text-anchor="middle" fill="#111">-0.20</text>
<rect x="278.30" y="127.00" width="16.35" height="16.25" fill="#64bedc"/>
<rect x="278.80" y="127.50" width="15.30" height="15.20" fill="none" stroke="#ffffff" stroke-opacity="0.45" stroke-width="1"/>
<rect x="279.40" y="128.10" width="14.10" height="14.00" fill="none" stroke="#1a2228" stroke-opacity="0.45" stroke-width="0.75"/>
<text x="286.45" y="136.85" class="a" font-size="6.2" text-anchor="middle" fill="#111">-0.19</text>
<rect x="294.60" y="127.00" width="16.35" height="16.25" fill="#5abada"/>
<rect x="295.10" y="127.50" width="15.30" height="15.20" fill="none" stroke="#ffffff" stroke-opacity="0.45" stroke-width="1"/>
<rect x="295.70" y="128.10" width="14.10" height="14.00" fill="none" stroke="#1a2228" stroke-opacity="0.45" stroke-width="0.75"/>
<text x="302.75" y="136.85" class="a" font-size="6.2" text-anchor="middle" fill="#111">-0.20</text>
<rect x="310.90" y="127.00" width="16.35" height="16.25" fill="#6ec2df"/>
<rect x="311.40" y="127.50" width="15.30" height="15.20" fill="none" stroke="#ffffff" stroke-opacity="0.45" stroke-width="1"/>
<rect x="312.00" y="128.10" width="14.10" height="14.00" fill="none" stroke="#1a2228" stroke-opacity="0.45" stroke-width="0.75"/>
<text x="319.05" y="136.85" class="a" font-size="6.2" text-anchor="middle" fill="#111">-0.18</text>
<rect x="327.20" y="127.00" width="16.35" height="16.25" fill="#64bedc"/>
<rect x="327.70" y="127.50" width="15.30" height="15.20" fill="none" stroke="#ffffff" stroke-opacity="0.45" stroke-width="1"/>
<rect x="328.30" y="128.10" width="14.10" height="14.00" fill="none" stroke="#1a2228" stroke-opacity="0.45" stroke-width="0.75"/>
<text x="335.35" y="136.85" class="a" font-size="6.2" text-anchor="middle" fill="#111">-0.19</text>
<rect x="343.50" y="127.00" width="16.35" height="16.25" fill="#64bedc"/>
<rect x="344.00" y="127.50" width="15.30" height="15.20" fill="none" stroke="#ffffff" stroke-opacity="0.45" stroke-width="1"/>
<rect x="344.60" y="128.10" width="14.10" height="14.00" fill="none" stroke="#1a2228" stroke-opacity="0.45" stroke-width="0.75"/>
<text x="351.65" y="136.85" class="a" font-size="6.2" text-anchor="middle" fill="#111">-0.19</text>
<rect x="371.80" y="127.00" width="16.27" height="16.25" fill="#5abada"/>
<rect x="372.30" y="127.50" width="15.22" height="15.20" fill="none" stroke="#ffffff" stroke-opacity="0.45" stroke-width="1"/>
<rect x="372.90" y="128.10" width="14.02" height="14.00" fill="none" stroke="#1a2228" stroke-opacity="0.45" stroke-width="0.75"/>
<text x="379.91" y="136.85" class="a" font-size="6.2" text-anchor="middle" fill="#111">-0.20</text>
<rect x="388.02" y="127.00" width="16.27" height="16.25" fill="#78c6e1"/>
<rect x="388.52" y="127.50" width="15.22" height="15.20" fill="none" stroke="#ffffff" stroke-opacity="0.45" stroke-width="1"/>
<rect x="389.12" y="128.10" width="14.02" height="14.00" fill="none" stroke="#1a2228" stroke-opacity="0.45" stroke-width="0.75"/>
<text x="396.13" y="136.85" class="a" font-size="6.2" text-anchor="middle" fill="#111">-0.17</text>
<rect x="404.24" y="127.00" width="16.27" height="16.25" fill="#5abada"/>
<rect x="404.74" y="127.50" width="15.22" height="15.20" fill="none" stroke="#ffffff" stroke-opacity="0.45" stroke-width="1"/>
<rect x="405.34" y="128.10" width="14.02" height="14.00" fill="none" stroke="#1a2228" stroke-opacity="0.45" stroke-width="0.75"/>
<text x="412.35" y="136.85" class="a" font-size="6.2" text-anchor="middle" fill="#111">-0.20</text>
<text x="258.6" y="154.7" font-size="10.9" text-anchor="end" fill="#0a0a0a">775</text>
<line x1="260.2" y1="151.30" x2="262.0" y2="151.30" stroke="#333" stroke-width="0.6"/>
<line x1="370.0" y1="151.30" x2="371.8" y2="151.30" stroke="#333" stroke-width="0.6"/>
<rect x="262.00" y="143.20" width="16.35" height="16.25" fill="#6ec2df"/>
<rect x="262.50" y="143.70" width="15.30" height="15.20" fill="none" stroke="#ffffff" stroke-opacity="0.45" stroke-width="1"/>
<rect x="263.10" y="144.30" width="14.10" height="14.00" fill="none" stroke="#1a2228" stroke-opacity="0.45" stroke-width="0.75"/>
<text x="270.15" y="153.05" class="a" font-size="6.2" text-anchor="middle" fill="#111">-0.18</text>
<rect x="278.30" y="143.20" width="16.35" height="16.25" fill="#78c6e1"/>
<rect x="278.80" y="143.70" width="15.30" height="15.20" fill="none" stroke="#ffffff" stroke-opacity="0.45" stroke-width="1"/>
<rect x="279.40" y="144.30" width="14.10" height="14.00" fill="none" stroke="#1a2228" stroke-opacity="0.45" stroke-width="0.75"/>
<text x="286.45" y="153.05" class="a" font-size="6.2" text-anchor="middle" fill="#111">-0.17</text>
<rect x="294.60" y="143.20" width="16.35" height="16.25" fill="#78c6e1"/>
<rect x="295.10" y="143.70" width="15.30" height="15.20" fill="none" stroke="#ffffff" stroke-opacity="0.45" stroke-width="1"/>
<rect x="295.70" y="144.30" width="14.10" height="14.00" fill="none" stroke="#1a2228" stroke-opacity="0.45" stroke-width="0.75"/>
<text x="302.75" y="153.05" class="a" font-size="6.2" text-anchor="middle" fill="#111">-0.17</text>
<rect x="310.90" y="143.20" width="16.35" height="16.25" fill="#82cae4"/>
<rect x="311.40" y="143.70" width="15.30" height="15.20" fill="none" stroke="#ffffff" stroke-opacity="0.45" stroke-width="1"/>
<rect x="312.00" y="144.30" width="14.10" height="14.00" fill="none" stroke="#1a2228" stroke-opacity="0.45" stroke-width="0.75"/>
<text x="319.05" y="153.05" class="a" font-size="6.2" text-anchor="middle" fill="#111">-0.16</text>
<rect x="327.20" y="143.20" width="16.35" height="16.25" fill="#78c6e1"/>
<rect x="327.70" y="143.70" width="15.30" height="15.20" fill="none" stroke="#ffffff" stroke-opacity="0.45" stroke-width="1"/>
<rect x="328.30" y="144.30" width="14.10" height="14.00" fill="none" stroke="#1a2228" stroke-opacity="0.45" stroke-width="0.75"/>
<text x="335.35" y="153.05" class="a" font-size="6.2" text-anchor="middle" fill="#111">-0.17</text>
<rect x="343.50" y="143.20" width="16.35" height="16.25" fill="#78c6e1"/>
<rect x="344.00" y="143.70" width="15.30" height="15.20" fill="none" stroke="#ffffff" stroke-opacity="0.45" stroke-width="1"/>
<rect x="344.60" y="144.30" width="14.10" height="14.00" fill="none" stroke="#1a2228" stroke-opacity="0.45" stroke-width="0.75"/>
<text x="351.65" y="153.05" class="a" font-size="6.2" text-anchor="middle" fill="#111">-0.17</text>
<rect x="371.80" y="143.20" width="16.27" height="16.25" fill="#6ec2df"/>
<rect x="372.30" y="143.70" width="15.22" height="15.20" fill="none" stroke="#ffffff" stroke-opacity="0.45" stroke-width="1"/>
<rect x="372.90" y="144.30" width="14.02" height="14.00" fill="none" stroke="#1a2228" stroke-opacity="0.45" stroke-width="0.75"/>
<text x="379.91" y="153.05" class="a" font-size="6.2" text-anchor="middle" fill="#111">-0.18</text>
<rect x="388.02" y="143.20" width="16.27" height="16.25" fill="#8ccee6"/>
<rect x="388.52" y="143.70" width="15.22" height="15.20" fill="none" stroke="#ffffff" stroke-opacity="0.45" stroke-width="1"/>
<rect x="389.12" y="144.30" width="14.02" height="14.00" fill="none" stroke="#1a2228" stroke-opacity="0.45" stroke-width="0.75"/>
<text x="396.13" y="153.05" class="a" font-size="6.2" text-anchor="middle" fill="#111">-0.15</text>
<rect x="404.24" y="143.20" width="16.27" height="16.25" fill="#6ec2df"/>
<rect x="404.74" y="143.70" width="15.22" height="15.20" fill="none" stroke="#ffffff" stroke-opacity="0.45" stroke-width="1"/>
<rect x="405.34" y="144.30" width="14.02" height="14.00" fill="none" stroke="#1a2228" stroke-opacity="0.45" stroke-width="0.75"/>
<text x="412.35" y="153.05" class="a" font-size="6.2" text-anchor="middle" fill="#111">-0.18</text>
<text x="258.6" y="170.9" font-size="10.9" text-anchor="end" fill="#0a0a0a">800</text>
<line x1="260.2" y1="167.50" x2="262.0" y2="167.50" stroke="#333" stroke-width="0.6"/>
<line x1="370.0" y1="167.50" x2="371.8" y2="167.50" stroke="#333" stroke-width="0.6"/>
<rect x="262.00" y="159.40" width="16.35" height="16.25" fill="#82cae4"/>
<rect x="262.50" y="159.90" width="15.30" height="15.20" fill="none" stroke="#ffffff" stroke-opacity="0.45" stroke-width="1"/>
<rect x="263.10" y="160.50" width="14.10" height="14.00" fill="none" stroke="#1a2228" stroke-opacity="0.45" stroke-width="0.75"/>
<text x="270.15" y="169.25" class="a" font-size="6.2" text-anchor="middle" fill="#111">-0.16</text>
<rect x="278.30" y="159.40" width="16.35" height="16.25" fill="#94d1e8"/>
<rect x="278.80" y="159.90" width="15.30" height="15.20" fill="none" stroke="#ffffff" stroke-opacity="0.45" stroke-width="1"/>
<rect x="279.40" y="160.50" width="14.10" height="14.00" fill="none" stroke="#1a2228" stroke-opacity="0.45" stroke-width="0.75"/>
<text x="286.45" y="169.25" class="a" font-size="6.2" text-anchor="middle" fill="#111">-0.14</text>
<rect x="294.60" y="159.40" width="16.35" height="16.25" fill="#8ccee6"/>
<rect x="295.10" y="159.90" width="15.30" height="15.20" fill="none" stroke="#ffffff" stroke-opacity="0.45" stroke-width="1"/>
<rect x="295.70" y="160.50" width="14.10" height="14.00" fill="none" stroke="#1a2228" stroke-opacity="0.45" stroke-width="0.75"/>
<text x="302.75" y="169.25" class="a" font-size="6.2" text-anchor="middle" fill="#111">-0.15</text>
<rect x="310.90" y="159.40" width="16.35" height="16.25" fill="#8ccee6"/>
<rect x="311.40" y="159.90" width="15.30" height="15.20" fill="none" stroke="#ffffff" stroke-opacity="0.45" stroke-width="1"/>
<rect x="312.00" y="160.50" width="14.10" height="14.00" fill="none" stroke="#1a2228" stroke-opacity="0.45" stroke-width="0.75"/>
<text x="319.05" y="169.25" class="a" font-size="6.2" text-anchor="middle" fill="#111">-0.15</text>
<rect x="327.20" y="159.40" width="16.35" height="16.25" fill="#94d1e8"/>
<rect x="327.70" y="159.90" width="15.30" height="15.20" fill="none" stroke="#ffffff" stroke-opacity="0.45" stroke-width="1"/>
<rect x="328.30" y="160.50" width="14.10" height="14.00" fill="none" stroke="#1a2228" stroke-opacity="0.45" stroke-width="0.75"/>
<text x="335.35" y="169.25" class="a" font-size="6.2" text-anchor="middle" fill="#111">-0.14</text>
<rect x="343.50" y="159.40" width="16.35" height="16.25" fill="#94d1e8"/>
<rect x="344.00" y="159.90" width="15.30" height="15.20" fill="none" stroke="#ffffff" stroke-opacity="0.45" stroke-width="1"/>
<rect x="344.60" y="160.50" width="14.10" height="14.00" fill="none" stroke="#1a2228" stroke-opacity="0.45" stroke-width="0.75"/>
<text x="351.65" y="169.25" class="a" font-size="6.2" text-anchor="middle" fill="#111">-0.14</text>
<rect x="371.80" y="159.40" width="16.27" height="16.25" fill="#82cae4"/>
<rect x="372.30" y="159.90" width="15.22" height="15.20" fill="none" stroke="#ffffff" stroke-opacity="0.45" stroke-width="1"/>
<rect x="372.90" y="160.50" width="14.02" height="14.00" fill="none" stroke="#1a2228" stroke-opacity="0.45" stroke-width="0.75"/>
<text x="379.91" y="169.25" class="a" font-size="6.2" text-anchor="middle" fill="#111">-0.16</text>
<rect x="388.02" y="159.40" width="16.27" height="16.25" fill="#a5d8eb"/>
<rect x="388.52" y="159.90" width="15.22" height="15.20" fill="none" stroke="#ffffff" stroke-opacity="0.45" stroke-width="1"/>
<rect x="389.12" y="160.50" width="14.02" height="14.00" fill="none" stroke="#1a2228" stroke-opacity="0.45" stroke-width="0.75"/>
<text x="396.13" y="169.25" class="a" font-size="6.2" text-anchor="middle" fill="#111">-0.12</text>
<rect x="404.24" y="159.40" width="16.27" height="16.25" fill="#82cae4"/>
<rect x="404.74" y="159.90" width="15.22" height="15.20" fill="none" stroke="#ffffff" stroke-opacity="0.45" stroke-width="1"/>
<rect x="405.34" y="160.50" width="14.02" height="14.00" fill="none" stroke="#1a2228" stroke-opacity="0.45" stroke-width="0.75"/>
<text x="412.35" y="169.25" class="a" font-size="6.2" text-anchor="middle" fill="#111">-0.16</text>
<text x="258.6" y="187.1" font-size="10.9" text-anchor="end" fill="#0a0a0a">825</text>
<line x1="260.2" y1="183.70" x2="262.0" y2="183.70" stroke="#333" stroke-width="0.6"/>
<line x1="370.0" y1="183.70" x2="371.8" y2="183.70" stroke="#333" stroke-width="0.6"/>
<rect x="262.00" y="175.60" width="16.35" height="16.25" fill="#9dd5ea"/>
<rect x="262.50" y="176.10" width="15.30" height="15.20" fill="none" stroke="#ffffff" stroke-opacity="0.45" stroke-width="1"/>
<rect x="263.10" y="176.70" width="14.10" height="14.00" fill="none" stroke="#1a2228" stroke-opacity="0.45" stroke-width="0.75"/>
<text x="270.15" y="185.45" class="a" font-size="6.2" text-anchor="middle" fill="#111">-0.13</text>
<rect x="278.30" y="175.60" width="16.35" height="16.25" fill="#aedced"/>
<rect x="278.80" y="176.10" width="15.30" height="15.20" fill="none" stroke="#ffffff" stroke-opacity="0.45" stroke-width="1"/>
<rect x="279.40" y="176.70" width="14.10" height="14.00" fill="none" stroke="#1a2228" stroke-opacity="0.45" stroke-width="0.75"/>
<text x="286.45" y="185.45" class="a" font-size="6.2" text-anchor="middle" fill="#111">-0.11</text>
<rect x="294.60" y="175.60" width="16.35" height="16.25" fill="#aedced"/>
<rect x="295.10" y="176.10" width="15.30" height="15.20" fill="none" stroke="#ffffff" stroke-opacity="0.45" stroke-width="1"/>
<rect x="295.70" y="176.70" width="14.10" height="14.00" fill="none" stroke="#1a2228" stroke-opacity="0.45" stroke-width="0.75"/>
<text x="302.75" y="185.45" class="a" font-size="6.2" text-anchor="middle" fill="#111">-0.11</text>
<rect x="310.90" y="175.60" width="16.35" height="16.25" fill="#aedced"/>
<rect x="311.40" y="176.10" width="15.30" height="15.20" fill="none" stroke="#ffffff" stroke-opacity="0.45" stroke-width="1"/>
<rect x="312.00" y="176.70" width="14.10" height="14.00" fill="none" stroke="#1a2228" stroke-opacity="0.45" stroke-width="0.75"/>
<text x="319.05" y="185.45" class="a" font-size="6.2" text-anchor="middle" fill="#111">-0.11</text>
<rect x="327.20" y="175.60" width="16.35" height="16.25" fill="#a5d8eb"/>
<rect x="327.70" y="176.10" width="15.30" height="15.20" fill="none" stroke="#ffffff" stroke-opacity="0.45" stroke-width="1"/>
<rect x="328.30" y="176.70" width="14.10" height="14.00" fill="none" stroke="#1a2228" stroke-opacity="0.45" stroke-width="0.75"/>
<text x="335.35" y="185.45" class="a" font-size="6.2" text-anchor="middle" fill="#111">-0.12</text>
<rect x="343.50" y="175.60" width="16.35" height="16.25" fill="#aedced"/>
<rect x="344.00" y="176.10" width="15.30" height="15.20" fill="none" stroke="#ffffff" stroke-opacity="0.45" stroke-width="1"/>
<rect x="344.60" y="176.70" width="14.10" height="14.00" fill="none" stroke="#1a2228" stroke-opacity="0.45" stroke-width="0.75"/>
<text x="351.65" y="185.45" class="a" font-size="6.2" text-anchor="middle" fill="#111">-0.11</text>
<rect x="371.80" y="175.60" width="16.27" height="16.25" fill="#9dd5ea"/>
<rect x="372.30" y="176.10" width="15.22" height="15.20" fill="none" stroke="#ffffff" stroke-opacity="0.45" stroke-width="1"/>
<rect x="372.90" y="176.70" width="14.02" height="14.00" fill="none" stroke="#1a2228" stroke-opacity="0.45" stroke-width="0.75"/>
<text x="379.91" y="185.45" class="a" font-size="6.2" text-anchor="middle" fill="#111">-0.13</text>
<rect x="388.02" y="175.60" width="16.27" height="16.25" fill="#c4e5f2"/>
<rect x="388.52" y="176.10" width="15.22" height="15.20" fill="none" stroke="#ffffff" stroke-opacity="0.45" stroke-width="1"/>
<rect x="389.12" y="176.70" width="14.02" height="14.00" fill="none" stroke="#1a2228" stroke-opacity="0.45" stroke-width="0.75"/>
<text x="396.13" y="185.45" class="a" font-size="6.2" text-anchor="middle" fill="#111">-0.08</text>
<rect x="404.24" y="175.60" width="16.27" height="16.25" fill="#94d1e8"/>
<rect x="404.74" y="176.10" width="15.22" height="15.20" fill="none" stroke="#ffffff" stroke-opacity="0.45" stroke-width="1"/>
<rect x="405.34" y="176.70" width="14.02" height="14.00" fill="none" stroke="#1a2228" stroke-opacity="0.45" stroke-width="0.75"/>
<text x="412.35" y="185.45" class="a" font-size="6.2" text-anchor="middle" fill="#111">-0.14</text>
<text x="258.6" y="203.3" font-size="10.9" text-anchor="end" fill="#0a0a0a">850</text>
<line x1="260.2" y1="199.90" x2="262.0" y2="199.90" stroke="#333" stroke-width="0.6"/>
<line x1="370.0" y1="199.90" x2="371.8" y2="199.90" stroke="#333" stroke-width="0.6"/>
<rect x="262.00" y="191.80" width="16.35" height="16.25" fill="#c4e5f2"/>
<rect x="262.50" y="192.30" width="15.30" height="15.20" fill="none" stroke="#ffffff" stroke-opacity="0.45" stroke-width="1"/>
<rect x="263.10" y="192.90" width="14.10" height="14.00" fill="none" stroke="#1a2228" stroke-opacity="0.45" stroke-width="0.75"/>
<text x="270.15" y="201.65" class="a" font-size="6.2" text-anchor="middle" fill="#111">-0.08</text>
<rect x="278.30" y="191.80" width="16.35" height="16.25" fill="#cbe7f3"/>
<rect x="278.80" y="192.30" width="15.30" height="15.20" fill="none" stroke="#ffffff" stroke-opacity="0.45" stroke-width="1"/>
<rect x="279.40" y="192.90" width="14.10" height="14.00" fill="none" stroke="#1a2228" stroke-opacity="0.45" stroke-width="0.75"/>
<text x="286.45" y="201.65" class="a" font-size="6.2" text-anchor="middle" fill="#111">-0.07</text>
<rect x="294.60" y="191.80" width="16.35" height="16.25" fill="#cbe7f3"/>
<rect x="295.10" y="192.30" width="15.30" height="15.20" fill="none" stroke="#ffffff" stroke-opacity="0.45" stroke-width="1"/>
<rect x="295.70" y="192.90" width="14.10" height="14.00" fill="none" stroke="#1a2228" stroke-opacity="0.45" stroke-width="0.75"/>
<text x="302.75" y="201.65" class="a" font-size="6.2" text-anchor="middle" fill="#111">-0.07</text>
<rect x="310.90" y="191.80" width="16.35" height="16.25" fill="#d2eaf5"/>
<rect x="311.40" y="192.30" width="15.30" height="15.20" fill="none" stroke="#ffffff" stroke-opacity="0.45" stroke-width="1"/>
<rect x="312.00" y="192.90" width="14.10" height="14.00" fill="none" stroke="#1a2228" stroke-opacity="0.45" stroke-width="0.75"/>
<text x="319.05" y="201.65" class="a" font-size="6.2" text-anchor="middle" fill="#111">-0.06</text>
<rect x="327.20" y="191.80" width="16.35" height="16.25" fill="#c4e5f2"/>
<rect x="327.70" y="192.30" width="15.30" height="15.20" fill="none" stroke="#ffffff" stroke-opacity="0.45" stroke-width="1"/>
<rect x="328.30" y="192.90" width="14.10" height="14.00" fill="none" stroke="#1a2228" stroke-opacity="0.45" stroke-width="0.75"/>
<text x="335.35" y="201.65" class="a" font-size="6.2" text-anchor="middle" fill="#111">-0.08</text>
<rect x="343.50" y="191.80" width="16.35" height="16.25" fill="#c4e5f2"/>
<rect x="344.00" y="192.30" width="15.30" height="15.20" fill="none" stroke="#ffffff" stroke-opacity="0.45" stroke-width="1"/>
<rect x="344.60" y="192.90" width="14.10" height="14.00" fill="none" stroke="#1a2228" stroke-opacity="0.45" stroke-width="0.75"/>
<text x="351.65" y="201.65" class="a" font-size="6.2" text-anchor="middle" fill="#111">-0.08</text>
<rect x="371.80" y="191.80" width="16.27" height="16.25" fill="#c4e5f2"/>
<rect x="372.30" y="192.30" width="15.22" height="15.20" fill="none" stroke="#ffffff" stroke-opacity="0.45" stroke-width="1"/>
<rect x="372.90" y="192.90" width="14.02" height="14.00" fill="none" stroke="#1a2228" stroke-opacity="0.45" stroke-width="0.75"/>
<text x="379.91" y="201.65" class="a" font-size="6.2" text-anchor="middle" fill="#111">-0.08</text>
<rect x="388.02" y="191.80" width="16.27" height="16.25" fill="#dfeff7"/>
<rect x="388.52" y="192.30" width="15.22" height="15.20" fill="none" stroke="#ffffff" stroke-opacity="0.45" stroke-width="1"/>
<rect x="389.12" y="192.90" width="14.02" height="14.00" fill="none" stroke="#1a2228" stroke-opacity="0.45" stroke-width="0.75"/>
<text x="396.13" y="201.65" class="a" font-size="6.2" text-anchor="middle" fill="#111">-0.04</text>
<rect x="404.24" y="191.80" width="16.27" height="16.25" fill="#aedced"/>
<rect x="404.74" y="192.30" width="15.22" height="15.20" fill="none" stroke="#ffffff" stroke-opacity="0.45" stroke-width="1"/>
<rect x="405.34" y="192.90" width="14.02" height="14.00" fill="none" stroke="#1a2228" stroke-opacity="0.45" stroke-width="0.75"/>
<text x="412.35" y="201.65" class="a" font-size="6.2" text-anchor="middle" fill="#111">-0.11</text>
<text x="258.6" y="219.5" font-size="10.9" text-anchor="end" fill="#0a0a0a">875</text>
<line x1="260.2" y1="216.10" x2="262.0" y2="216.10" stroke="#333" stroke-width="0.6"/>
<line x1="370.0" y1="216.10" x2="371.8" y2="216.10" stroke="#333" stroke-width="0.6"/>
<rect x="262.00" y="208.00" width="16.35" height="16.25" fill="#d9edf6"/>
<text x="270.15" y="217.85" class="a" font-size="6.2" text-anchor="middle" fill="#111">-0.05</text>
<rect x="278.30" y="208.00" width="16.35" height="16.25" fill="#d9edf6"/>
<rect x="278.80" y="208.50" width="15.30" height="15.20" fill="none" stroke="#ffffff" stroke-opacity="0.45" stroke-width="1"/>
<rect x="279.40" y="209.10" width="14.10" height="14.00" fill="none" stroke="#1a2228" stroke-opacity="0.45" stroke-width="0.75"/>
<text x="286.45" y="217.85" class="a" font-size="6.2" text-anchor="middle" fill="#111">-0.05</text>
<rect x="294.60" y="208.00" width="16.35" height="16.25" fill="#d9edf6"/>
<rect x="295.10" y="208.50" width="15.30" height="15.20" fill="none" stroke="#ffffff" stroke-opacity="0.45" stroke-width="1"/>
<rect x="295.70" y="209.10" width="14.10" height="14.00" fill="none" stroke="#1a2228" stroke-opacity="0.45" stroke-width="0.75"/>
<text x="302.75" y="217.85" class="a" font-size="6.2" text-anchor="middle" fill="#111">-0.05</text>
<rect x="310.90" y="208.00" width="16.35" height="16.25" fill="#dfeff7"/>
<text x="319.05" y="217.85" class="a" font-size="6.2" text-anchor="middle" fill="#111">-0.04</text>
<rect x="327.20" y="208.00" width="16.35" height="16.25" fill="#d9edf6"/>
<rect x="327.70" y="208.50" width="15.30" height="15.20" fill="none" stroke="#ffffff" stroke-opacity="0.45" stroke-width="1"/>
<rect x="328.30" y="209.10" width="14.10" height="14.00" fill="none" stroke="#1a2228" stroke-opacity="0.45" stroke-width="0.75"/>
<text x="335.35" y="217.85" class="a" font-size="6.2" text-anchor="middle" fill="#111">-0.05</text>
<rect x="343.50" y="208.00" width="16.35" height="16.25" fill="#d2eaf5"/>
<text x="351.65" y="217.85" class="a" font-size="6.2" text-anchor="middle" fill="#111">-0.06</text>
<rect x="371.80" y="208.00" width="16.27" height="16.25" fill="#d9edf6"/>
<rect x="372.30" y="208.50" width="15.22" height="15.20" fill="none" stroke="#ffffff" stroke-opacity="0.45" stroke-width="1"/>
<rect x="372.90" y="209.10" width="14.02" height="14.00" fill="none" stroke="#1a2228" stroke-opacity="0.45" stroke-width="0.75"/>
<text x="379.91" y="217.85" class="a" font-size="6.2" text-anchor="middle" fill="#111">-0.05</text>
<rect x="388.02" y="208.00" width="16.27" height="16.25" fill="#ebf3f8"/>
<rect x="388.52" y="208.50" width="15.22" height="15.20" fill="none" stroke="#ffffff" stroke-opacity="0.45" stroke-width="1"/>
<rect x="389.12" y="209.10" width="14.02" height="14.00" fill="none" stroke="#1a2228" stroke-opacity="0.45" stroke-width="0.75"/>
<text x="396.13" y="217.85" class="a" font-size="6.2" text-anchor="middle" fill="#111">-0.02</text>
<rect x="404.24" y="208.00" width="16.27" height="16.25" fill="#bde2f0"/>
<rect x="404.74" y="208.50" width="15.22" height="15.20" fill="none" stroke="#ffffff" stroke-opacity="0.45" stroke-width="1"/>
<rect x="405.34" y="209.10" width="14.02" height="14.00" fill="none" stroke="#1a2228" stroke-opacity="0.45" stroke-width="0.75"/>
<text x="412.35" y="217.85" class="a" font-size="6.2" text-anchor="middle" fill="#111">-0.09</text>
<text x="258.6" y="235.7" font-size="10.9" text-anchor="end" fill="#0a0a0a">900</text>
<line x1="260.2" y1="232.30" x2="262.0" y2="232.30" stroke="#333" stroke-width="0.6"/>
<line x1="370.0" y1="232.30" x2="371.8" y2="232.30" stroke="#333" stroke-width="0.6"/>
<rect x="262.00" y="224.20" width="16.35" height="16.25" fill="#e5f1f8"/>
<text x="270.15" y="234.05" class="a" font-size="6.2" text-anchor="middle" fill="#111">-0.03</text>
<rect x="278.30" y="224.20" width="16.35" height="16.25" fill="#dfeff7"/>
<text x="286.45" y="234.05" class="a" font-size="6.2" text-anchor="middle" fill="#111">-0.04</text>
<rect x="294.60" y="224.20" width="16.35" height="16.25" fill="#dfeff7"/>
<text x="302.75" y="234.05" class="a" font-size="6.2" text-anchor="middle" fill="#111">-0.04</text>
<rect x="310.90" y="224.20" width="16.35" height="16.25" fill="#ebf3f8"/>
<text x="319.05" y="234.05" class="a" font-size="6.2" text-anchor="middle" fill="#111">-0.02</text>
<rect x="327.20" y="224.20" width="16.35" height="16.25" fill="#e5f1f8"/>
<text x="335.35" y="234.05" class="a" font-size="6.2" text-anchor="middle" fill="#111">-0.03</text>
<rect x="343.50" y="224.20" width="16.35" height="16.25" fill="#e5f1f8"/>
<text x="351.65" y="234.05" class="a" font-size="6.2" text-anchor="middle" fill="#111">-0.03</text>
<rect x="371.80" y="224.20" width="16.27" height="16.25" fill="#e5f1f8"/>
<text x="379.91" y="234.05" class="a" font-size="6.2" text-anchor="middle" fill="#111">-0.03</text>
<rect x="388.02" y="224.20" width="16.27" height="16.25" fill="#f7f7fa"/>
<text x="396.13" y="234.05" class="a" font-size="6.2" text-anchor="middle" fill="#111">0.00</text>
<rect x="404.24" y="224.20" width="16.27" height="16.25" fill="#cbe7f3"/>
<text x="412.35" y="234.05" class="a" font-size="6.2" text-anchor="middle" fill="#111">-0.07</text>
<line x1="270.15" y1="240.4" x2="270.15" y2="242.6" stroke="#333" stroke-width="0.6"/>
<text x="270.15" y="249.4" font-size="7.8" text-anchor="middle" fill="#0a0a0a">−42</text>
<line x1="286.45" y1="240.4" x2="286.45" y2="242.6" stroke="#333" stroke-width="0.6"/>
<text x="286.45" y="249.4" font-size="7.8" text-anchor="middle" fill="#0a0a0a">−36</text>
<line x1="302.75" y1="240.4" x2="302.75" y2="242.6" stroke="#333" stroke-width="0.6"/>
<text x="302.75" y="249.4" font-size="7.8" text-anchor="middle" fill="#0a0a0a">−30</text>
<line x1="319.05" y1="240.4" x2="319.05" y2="242.6" stroke="#333" stroke-width="0.6"/>
<text x="319.05" y="249.4" font-size="7.8" text-anchor="middle" fill="#0a0a0a">−24</text>
<line x1="335.35" y1="240.4" x2="335.35" y2="242.6" stroke="#333" stroke-width="0.6"/>
<text x="335.35" y="249.4" font-size="7.8" text-anchor="middle" fill="#0a0a0a">−18</text>
<line x1="351.65" y1="240.4" x2="351.65" y2="242.6" stroke="#333" stroke-width="0.6"/>
<text x="351.65" y="249.4" font-size="7.8" text-anchor="middle" fill="#0a0a0a">−12</text>
<line x1="379.91" y1="240.4" x2="379.91" y2="242.6" stroke="#333" stroke-width="0.6"/>
<text x="379.91" y="249.4" font-size="7.8" text-anchor="middle" fill="#0a0a0a">Mean</text>
<line x1="396.13" y1="240.4" x2="396.13" y2="242.6" stroke="#333" stroke-width="0.6"/>
<text x="396.13" y="249.4" font-size="7.8" text-anchor="middle" fill="#0a0a0a">Max</text>
<line x1="412.35" y1="240.4" x2="412.35" y2="242.6" stroke="#333" stroke-width="0.6"/>
<text x="412.35" y="249.4" font-size="7.8" text-anchor="middle" fill="#0a0a0a">Min</text>
<text x="310.90" y="261.4" font-size="11.6" text-anchor="middle" fill="#0a0a0a">Lead Time (min)</text>
<text x="395.63" y="261.4" font-size="11.6" text-anchor="middle" fill="#0a0a0a">in 30-min</text>
<text transform="translate(237.0,127.0) rotate(-90)" font-size="11.5" text-anchor="middle" fill="#0a0a0a">Pressure (hPa)</text>
<text x="35.2" y="295.0" font-size="11.4" fill="#0a0a0a">(c) Vorticity vs Rainfall</text>
<text x="31.6" y="309.1" font-size="10.9" text-anchor="end" fill="#0a0a0a">400</text>
<line x1="33.2" y1="305.70" x2="35.0" y2="305.70" stroke="#333" stroke-width="0.6"/>
<line x1="143.4" y1="305.70" x2="145.2" y2="305.70" stroke="#333" stroke-width="0.6"/>
<rect x="35.00" y="297.60" width="16.35" height="16.25" fill="#fdd5c0"/>
<rect x="35.50" y="298.10" width="15.30" height="15.20" fill="none" stroke="#ffffff" stroke-opacity="0.45" stroke-width="1"/>
<rect x="36.10" y="298.70" width="14.10" height="14.00" fill="none" stroke="#1a2228" stroke-opacity="0.45" stroke-width="0.75"/>
<text x="43.15" y="307.45" class="a" font-size="6.2" text-anchor="middle" fill="#111">0.10</text>
<rect x="51.30" y="297.60" width="16.35" height="16.25" fill="#fdd0ba"/>
<rect x="51.80" y="298.10" width="15.30" height="15.20" fill="none" stroke="#ffffff" stroke-opacity="0.45" stroke-width="1"/>
<rect x="52.40" y="298.70" width="14.10" height="14.00" fill="none" stroke="#1a2228" stroke-opacity="0.45" stroke-width="0.75"/>
<text x="59.45" y="307.45" class="a" font-size="6.2" text-anchor="middle" fill="#111">0.11</text>
<rect x="67.60" y="297.60" width="16.35" height="16.25" fill="#fdd9c5"/>
<rect x="68.10" y="298.10" width="15.30" height="15.20" fill="none" stroke="#ffffff" stroke-opacity="0.45" stroke-width="1"/>
<rect x="68.70" y="298.70" width="14.10" height="14.00" fill="none" stroke="#1a2228" stroke-opacity="0.45" stroke-width="0.75"/>
<text x="75.75" y="307.45" class="a" font-size="6.2" text-anchor="middle" fill="#111">0.09</text>
<rect x="83.90" y="297.60" width="16.35" height="16.25" fill="#fdd5c0"/>
<rect x="84.40" y="298.10" width="15.30" height="15.20" fill="none" stroke="#ffffff" stroke-opacity="0.45" stroke-width="1"/>
<rect x="85.00" y="298.70" width="14.10" height="14.00" fill="none" stroke="#1a2228" stroke-opacity="0.45" stroke-width="0.75"/>
<text x="92.05" y="307.45" class="a" font-size="6.2" text-anchor="middle" fill="#111">0.10</text>
<rect x="100.20" y="297.60" width="16.35" height="16.25" fill="#fdd0ba"/>
<rect x="100.70" y="298.10" width="15.30" height="15.20" fill="none" stroke="#ffffff" stroke-opacity="0.45" stroke-width="1"/>
<rect x="101.30" y="298.70" width="14.10" height="14.00" fill="none" stroke="#1a2228" stroke-opacity="0.45" stroke-width="0.75"/>
<text x="108.35" y="307.45" class="a" font-size="6.2" text-anchor="middle" fill="#111">0.11</text>
<rect x="116.50" y="297.60" width="16.35" height="16.25" fill="#fdcbb4"/>
<rect x="117.00" y="298.10" width="15.30" height="15.20" fill="none" stroke="#ffffff" stroke-opacity="0.45" stroke-width="1"/>
<rect x="117.60" y="298.70" width="14.10" height="14.00" fill="none" stroke="#1a2228" stroke-opacity="0.45" stroke-width="0.75"/>
<text x="124.65" y="307.45" class="a" font-size="6.2" text-anchor="middle" fill="#111">0.12</text>
<rect x="145.20" y="297.60" width="16.27" height="16.25" fill="#fdd5c0"/>
<text x="153.31" y="307.45" class="a" font-size="6.2" text-anchor="middle" fill="#111">0.10</text>
<rect x="161.42" y="297.60" width="16.27" height="16.25" fill="#fdcbb4"/>
<text x="169.53" y="307.45" class="a" font-size="6.2" text-anchor="middle" fill="#111">0.12</text>
<rect x="177.64" y="297.60" width="16.27" height="16.25" fill="#fddcca"/>
<text x="185.75" y="307.45" class="a" font-size="6.2" text-anchor="middle" fill="#111">0.08</text>
<text x="31.6" y="325.3" font-size="10.9" text-anchor="end" fill="#0a0a0a">450</text>
<line x1="33.2" y1="321.90" x2="35.0" y2="321.90" stroke="#333" stroke-width="0.6"/>
<line x1="143.4" y1="321.90" x2="145.2" y2="321.90" stroke="#333" stroke-width="0.6"/>
<rect x="35.00" y="313.80" width="16.35" height="16.25" fill="#fddcca"/>
<rect x="35.50" y="314.30" width="15.30" height="15.20" fill="none" stroke="#ffffff" stroke-opacity="0.45" stroke-width="1"/>
<rect x="36.10" y="314.90" width="14.10" height="14.00" fill="none" stroke="#1a2228" stroke-opacity="0.45" stroke-width="0.75"/>
<text x="43.15" y="323.65" class="a" font-size="6.2" text-anchor="middle" fill="#111">0.08</text>
<rect x="51.30" y="313.80" width="16.35" height="16.25" fill="#fde3d5"/>
<rect x="51.80" y="314.30" width="15.30" height="15.20" fill="none" stroke="#ffffff" stroke-opacity="0.45" stroke-width="1"/>
<rect x="52.40" y="314.90" width="14.10" height="14.00" fill="none" stroke="#1a2228" stroke-opacity="0.45" stroke-width="0.75"/>
<text x="59.45" y="323.65" class="a" font-size="6.2" text-anchor="middle" fill="#111">0.06</text>
<rect x="67.60" y="313.80" width="16.35" height="16.25" fill="#fde0d0"/>
<text x="75.75" y="323.65" class="a" font-size="6.2" text-anchor="middle" fill="#111">0.07</text>
<rect x="83.90" y="313.80" width="16.35" height="16.25" fill="#fde3d5"/>
<rect x="84.40" y="314.30" width="15.30" height="15.20" fill="none" stroke="#ffffff" stroke-opacity="0.45" stroke-width="1"/>
<rect x="85.00" y="314.90" width="14.10" height="14.00" fill="none" stroke="#1a2228" stroke-opacity="0.45" stroke-width="0.75"/>
<text x="92.05" y="323.65" class="a" font-size="6.2" text-anchor="middle" fill="#111">0.06</text>
<rect x="100.20" y="313.80" width="16.35" height="16.25" fill="#fdd0ba"/>
<rect x="100.70" y="314.30" width="15.30" height="15.20" fill="none" stroke="#ffffff" stroke-opacity="0.45" stroke-width="1"/>
<rect x="101.30" y="314.90" width="14.10" height="14.00" fill="none" stroke="#1a2228" stroke-opacity="0.45" stroke-width="0.75"/>
<text x="108.35" y="323.65" class="a" font-size="6.2" text-anchor="middle" fill="#111">0.11</text>
<rect x="116.50" y="313.80" width="16.35" height="16.25" fill="#fdd5c0"/>
<rect x="117.00" y="314.30" width="15.30" height="15.20" fill="none" stroke="#ffffff" stroke-opacity="0.45" stroke-width="1"/>
<rect x="117.60" y="314.90" width="14.10" height="14.00" fill="none" stroke="#1a2228" stroke-opacity="0.45" stroke-width="0.75"/>
<text x="124.65" y="323.65" class="a" font-size="6.2" text-anchor="middle" fill="#111">0.10</text>
<rect x="145.20" y="313.80" width="16.27" height="16.25" fill="#fddcca"/>
<text x="153.31" y="323.65" class="a" font-size="6.2" text-anchor="middle" fill="#111">0.08</text>
<rect x="161.42" y="313.80" width="16.27" height="16.25" fill="#fdd0ba"/>
<text x="169.53" y="323.65" class="a" font-size="6.2" text-anchor="middle" fill="#111">0.11</text>
<rect x="177.64" y="313.80" width="16.27" height="16.25" fill="#fceae0"/>
<text x="185.75" y="323.65" class="a" font-size="6.2" text-anchor="middle" fill="#111">0.04</text>
<text x="31.6" y="341.5" font-size="10.9" text-anchor="end" fill="#0a0a0a">500</text>
<line x1="33.2" y1="338.10" x2="35.0" y2="338.10" stroke="#333" stroke-width="0.6"/>
<line x1="143.4" y1="338.10" x2="145.2" y2="338.10" stroke="#333" stroke-width="0.6"/>
<rect x="35.00" y="330.00" width="16.35" height="16.25" fill="#fde7da"/>
<text x="43.15" y="339.85" class="a" font-size="6.2" text-anchor="middle" fill="#111">0.05</text>
<rect x="51.30" y="330.00" width="16.35" height="16.25" fill="#fceae0"/>
<rect x="51.80" y="330.50" width="15.30" height="15.20" fill="none" stroke="#ffffff" stroke-opacity="0.45" stroke-width="1"/>
<rect x="52.40" y="331.10" width="14.10" height="14.00" fill="none" stroke="#1a2228" stroke-opacity="0.45" stroke-width="0.75"/>
<text x="59.45" y="339.85" class="a" font-size="6.2" text-anchor="middle" fill="#111">0.04</text>
<rect x="67.60" y="330.00" width="16.35" height="16.25" fill="#f9f1ed"/>
<text x="75.75" y="339.85" class="a" font-size="6.2" text-anchor="middle" fill="#111">0.02</text>
<rect x="83.90" y="330.00" width="16.35" height="16.25" fill="#fceae0"/>
<text x="92.05" y="339.85" class="a" font-size="6.2" text-anchor="middle" fill="#111">0.04</text>
<rect x="100.20" y="330.00" width="16.35" height="16.25" fill="#fde3d5"/>
<text x="108.35" y="339.85" class="a" font-size="6.2" text-anchor="middle" fill="#111">0.06</text>
<rect x="116.50" y="330.00" width="16.35" height="16.25" fill="#fceae0"/>
<text x="124.65" y="339.85" class="a" font-size="6.2" text-anchor="middle" fill="#111">0.04</text>
<rect x="145.20" y="330.00" width="16.27" height="16.25" fill="#fde7da"/>
<rect x="145.70" y="330.50" width="15.22" height="15.20" fill="none" stroke="#ffffff" stroke-opacity="0.45" stroke-width="1"/>
<rect x="146.30" y="331.10" width="14.02" height="14.00" fill="none" stroke="#1a2228" stroke-opacity="0.45" stroke-width="0.75"/>
<text x="153.31" y="339.85" class="a" font-size="6.2" text-anchor="middle" fill="#111">0.05</text>
<rect x="161.42" y="330.00" width="16.27" height="16.25" fill="#fde3d5"/>
<rect x="161.92" y="330.50" width="15.22" height="15.20" fill="none" stroke="#ffffff" stroke-opacity="0.45" stroke-width="1"/>
<rect x="162.52" y="331.10" width="14.02" height="14.00" fill="none" stroke="#1a2228" stroke-opacity="0.45" stroke-width="0.75"/>
<text x="169.53" y="339.85" class="a" font-size="6.2" text-anchor="middle" fill="#111">0.06</text>
<rect x="177.64" y="330.00" width="16.27" height="16.25" fill="#f9f1ed"/>
<rect x="178.14" y="330.50" width="15.22" height="15.20" fill="none" stroke="#ffffff" stroke-opacity="0.45" stroke-width="1"/>
<rect x="178.74" y="331.10" width="14.02" height="14.00" fill="none" stroke="#1a2228" stroke-opacity="0.45" stroke-width="0.75"/>
<text x="185.75" y="339.85" class="a" font-size="6.2" text-anchor="middle" fill="#111">0.02</text>
<text x="31.6" y="357.7" font-size="10.9" text-anchor="end" fill="#0a0a0a">550</text>
<line x1="33.2" y1="354.30" x2="35.0" y2="354.30" stroke="#333" stroke-width="0.6"/>
<line x1="143.4" y1="354.30" x2="145.2" y2="354.30" stroke="#333" stroke-width="0.6"/>
<rect x="35.00" y="346.20" width="16.35" height="16.25" fill="#f1f5f9"/>
<rect x="35.50" y="346.70" width="15.30" height="15.20" fill="none" stroke="#ffffff" stroke-opacity="0.45" stroke-width="1"/>
<rect x="36.10" y="347.30" width="14.10" height="14.00" fill="none" stroke="#1a2228" stroke-opacity="0.45" stroke-width="0.75"/>
<text x="43.15" y="356.05" class="a" font-size="6.2" text-anchor="middle" fill="#111">-0.01</text>
<rect x="51.30" y="346.20" width="16.35" height="16.25" fill="#dfeff7"/>
<rect x="51.80" y="346.70" width="15.30" height="15.20" fill="none" stroke="#ffffff" stroke-opacity="0.45" stroke-width="1"/>
<rect x="52.40" y="347.30" width="14.10" height="14.00" fill="none" stroke="#1a2228" stroke-opacity="0.45" stroke-width="0.75"/>
<text x="59.45" y="356.05" class="a" font-size="6.2" text-anchor="middle" fill="#111">-0.04</text>
<rect x="67.60" y="346.20" width="16.35" height="16.25" fill="#e5f1f8"/>
<rect x="68.10" y="346.70" width="15.30" height="15.20" fill="none" stroke="#ffffff" stroke-opacity="0.45" stroke-width="1"/>
<rect x="68.70" y="347.30" width="14.10" height="14.00" fill="none" stroke="#1a2228" stroke-opacity="0.45" stroke-width="0.75"/>
<text x="75.75" y="356.05" class="a" font-size="6.2" text-anchor="middle" fill="#111">-0.03</text>
<rect x="83.90" y="346.20" width="16.35" height="16.25" fill="#f7f7fa"/>
<text x="92.05" y="356.05" class="a" font-size="6.2" text-anchor="middle" fill="#111">0.00</text>
<rect x="100.20" y="346.20" width="16.35" height="16.25" fill="#f7f7fa"/>
<text x="108.35" y="356.05" class="a" font-size="6.2" text-anchor="middle" fill="#111">-0.00</text>
<rect x="116.50" y="346.20" width="16.35" height="16.25" fill="#f9f1ed"/>
<rect x="117.00" y="346.70" width="15.30" height="15.20" fill="none" stroke="#ffffff" stroke-opacity="0.45" stroke-width="1"/>
<rect x="117.60" y="347.30" width="14.10" height="14.00" fill="none" stroke="#1a2228" stroke-opacity="0.45" stroke-width="0.75"/>
<text x="124.65" y="356.05" class="a" font-size="6.2" text-anchor="middle" fill="#111">0.02</text>
<rect x="145.20" y="346.20" width="16.27" height="16.25" fill="#f1f5f9"/>
<rect x="145.70" y="346.70" width="15.22" height="15.20" fill="none" stroke="#ffffff" stroke-opacity="0.45" stroke-width="1"/>
<rect x="146.30" y="347.30" width="14.02" height="14.00" fill="none" stroke="#1a2228" stroke-opacity="0.45" stroke-width="0.75"/>
<text x="153.31" y="356.05" class="a" font-size="6.2" text-anchor="middle" fill="#111">-0.01</text>
<rect x="161.42" y="346.20" width="16.27" height="16.25" fill="#f8f4f4"/>
<text x="169.53" y="356.05" class="a" font-size="6.2" text-anchor="middle" fill="#111">0.01</text>
<rect x="177.64" y="346.20" width="16.27" height="16.25" fill="#e5f1f8"/>
<rect x="178.14" y="346.70" width="15.22" height="15.20" fill="none" stroke="#ffffff" stroke-opacity="0.45" stroke-width="1"/>
<rect x="178.74" y="347.30" width="14.02" height="14.00" fill="none" stroke="#1a2228" stroke-opacity="0.45" stroke-width="0.75"/>
<text x="185.75" y="356.05" class="a" font-size="6.2" text-anchor="middle" fill="#111">-0.03</text>
<text x="31.6" y="373.9" font-size="10.9" text-anchor="end" fill="#0a0a0a">600</text>
<line x1="33.2" y1="370.50" x2="35.0" y2="370.50" stroke="#333" stroke-width="0.6"/>
<line x1="143.4" y1="370.50" x2="145.2" y2="370.50" stroke="#333" stroke-width="0.6"/>
<rect x="35.00" y="362.40" width="16.35" height="16.25" fill="#e5f1f8"/>
<rect x="35.50" y="362.90" width="15.30" height="15.20" fill="none" stroke="#ffffff" stroke-opacity="0.45" stroke-width="1"/>
<rect x="36.10" y="363.50" width="14.10" height="14.00" fill="none" stroke="#1a2228" stroke-opacity="0.45" stroke-width="0.75"/>
<text x="43.15" y="372.25" class="a" font-size="6.2" text-anchor="middle" fill="#111">-0.03</text>
<rect x="51.30" y="362.40" width="16.35" height="16.25" fill="#e5f1f8"/>
<rect x="51.80" y="362.90" width="15.30" height="15.20" fill="none" stroke="#ffffff" stroke-opacity="0.45" stroke-width="1"/>
<rect x="52.40" y="363.50" width="14.10" height="14.00" fill="none" stroke="#1a2228" stroke-opacity="0.45" stroke-width="0.75"/>
<text x="59.45" y="372.25" class="a" font-size="6.2" text-anchor="middle" fill="#111">-0.03</text>
<rect x="67.60" y="362.40" width="16.35" height="16.25" fill="#dfeff7"/>
<rect x="68.10" y="362.90" width="15.30" height="15.20" fill="none" stroke="#ffffff" stroke-opacity="0.45" stroke-width="1"/>
<rect x="68.70" y="363.50" width="14.10" height="14.00" fill="none" stroke="#1a2228" stroke-opacity="0.45" stroke-width="0.75"/>
<text x="75.75" y="372.25" class="a" font-size="6.2" text-anchor="middle" fill="#111">-0.04</text>
<rect x="83.90" y="362.40" width="16.35" height="16.25" fill="#ebf3f8"/>
<rect x="84.40" y="362.90" width="15.30" height="15.20" fill="none" stroke="#ffffff" stroke-opacity="0.45" stroke-width="1"/>
<rect x="85.00" y="363.50" width="14.10" height="14.00" fill="none" stroke="#1a2228" stroke-opacity="0.45" stroke-width="0.75"/>
<text x="92.05" y="372.25" class="a" font-size="6.2" text-anchor="middle" fill="#111">-0.02</text>
<rect x="100.20" y="362.40" width="16.35" height="16.25" fill="#f1f5f9"/>
<rect x="100.70" y="362.90" width="15.30" height="15.20" fill="none" stroke="#ffffff" stroke-opacity="0.45" stroke-width="1"/>
<rect x="101.30" y="363.50" width="14.10" height="14.00" fill="none" stroke="#1a2228" stroke-opacity="0.45" stroke-width="0.75"/>
<text x="108.35" y="372.25" class="a" font-size="6.2" text-anchor="middle" fill="#111">-0.01</text>
<rect x="116.50" y="362.40" width="16.35" height="16.25" fill="#d9edf6"/>
<rect x="117.00" y="362.90" width="15.30" height="15.20" fill="none" stroke="#ffffff" stroke-opacity="0.45" stroke-width="1"/>
<rect x="117.60" y="363.50" width="14.10" height="14.00" fill="none" stroke="#1a2228" stroke-opacity="0.45" stroke-width="0.75"/>
<text x="124.65" y="372.25" class="a" font-size="6.2" text-anchor="middle" fill="#111">-0.05</text>
<rect x="145.20" y="362.40" width="16.27" height="16.25" fill="#e5f1f8"/>
<text x="153.31" y="372.25" class="a" font-size="6.2" text-anchor="middle" fill="#111">-0.03</text>
<rect x="161.42" y="362.40" width="16.27" height="16.25" fill="#f9f1ed"/>
<text x="169.53" y="372.25" class="a" font-size="6.2" text-anchor="middle" fill="#111">0.02</text>
<rect x="177.64" y="362.40" width="16.27" height="16.25" fill="#d2eaf5"/>
<text x="185.75" y="372.25" class="a" font-size="6.2" text-anchor="middle" fill="#111">-0.06</text>
<text x="31.6" y="390.1" font-size="10.9" text-anchor="end" fill="#0a0a0a">650</text>
<line x1="33.2" y1="386.70" x2="35.0" y2="386.70" stroke="#333" stroke-width="0.6"/>
<line x1="143.4" y1="386.70" x2="145.2" y2="386.70" stroke="#333" stroke-width="0.6"/>
<rect x="35.00" y="378.60" width="16.35" height="16.25" fill="#fdcbb4"/>
<rect x="35.50" y="379.10" width="15.30" height="15.20" fill="none" stroke="#ffffff" stroke-opacity="0.45" stroke-width="1"/>
<rect x="36.10" y="379.70" width="14.10" height="14.00" fill="none" stroke="#1a2228" stroke-opacity="0.45" stroke-width="0.75"/>
<text x="43.15" y="388.45" class="a" font-size="6.2" text-anchor="middle" fill="#111">0.12</text>
<rect x="51.30" y="378.60" width="16.35" height="16.25" fill="#fdd9c5"/>
<rect x="51.80" y="379.10" width="15.30" height="15.20" fill="none" stroke="#ffffff" stroke-opacity="0.45" stroke-width="1"/>
<rect x="52.40" y="379.70" width="14.10" height="14.00" fill="none" stroke="#1a2228" stroke-opacity="0.45" stroke-width="0.75"/>
<text x="59.45" y="388.45" class="a" font-size="6.2" text-anchor="middle" fill="#111">0.09</text>
<rect x="67.60" y="378.60" width="16.35" height="16.25" fill="#fdc6ae"/>
<rect x="68.10" y="379.10" width="15.30" height="15.20" fill="none" stroke="#ffffff" stroke-opacity="0.45" stroke-width="1"/>
<rect x="68.70" y="379.70" width="14.10" height="14.00" fill="none" stroke="#1a2228" stroke-opacity="0.45" stroke-width="0.75"/>
<text x="75.75" y="388.45" class="a" font-size="6.2" text-anchor="middle" fill="#111">0.13</text>
<rect x="83.90" y="378.60" width="16.35" height="16.25" fill="#fdc1a8"/>
<rect x="84.40" y="379.10" width="15.30" height="15.20" fill="none" stroke="#ffffff" stroke-opacity="0.45" stroke-width="1"/>
<rect x="85.00" y="379.70" width="14.10" height="14.00" fill="none" stroke="#1a2228" stroke-opacity="0.45" stroke-width="0.75"/>
<text x="92.05" y="388.45" class="a" font-size="6.2" text-anchor="middle" fill="#111">0.14</text>
<rect x="100.20" y="378.60" width="16.35" height="16.25" fill="#fdd0ba"/>
<rect x="100.70" y="379.10" width="15.30" height="15.20" fill="none" stroke="#ffffff" stroke-opacity="0.45" stroke-width="1"/>
<rect x="101.30" y="379.70" width="14.10" height="14.00" fill="none" stroke="#1a2228" stroke-opacity="0.45" stroke-width="0.75"/>
<text x="108.35" y="388.45" class="a" font-size="6.2" text-anchor="middle" fill="#111">0.11</text>
<rect x="116.50" y="378.60" width="16.35" height="16.25" fill="#fdb69b"/>
<rect x="117.00" y="379.10" width="15.30" height="15.20" fill="none" stroke="#ffffff" stroke-opacity="0.45" stroke-width="1"/>
<rect x="117.60" y="379.70" width="14.10" height="14.00" fill="none" stroke="#1a2228" stroke-opacity="0.45" stroke-width="0.75"/>
<text x="124.65" y="388.45" class="a" font-size="6.2" text-anchor="middle" fill="#111">0.16</text>
<rect x="145.20" y="378.60" width="16.27" height="16.25" fill="#fdcbb4"/>
<text x="153.31" y="388.45" class="a" font-size="6.2" text-anchor="middle" fill="#111">0.12</text>
<rect x="161.42" y="378.60" width="16.27" height="16.25" fill="#fdcbb4"/>
<text x="169.53" y="388.45" class="a" font-size="6.2" text-anchor="middle" fill="#111">0.12</text>
<rect x="177.64" y="378.60" width="16.27" height="16.25" fill="#fdd9c5"/>
<text x="185.75" y="388.45" class="a" font-size="6.2" text-anchor="middle" fill="#111">0.09</text>
<text x="31.6" y="406.3" font-size="10.9" text-anchor="end" fill="#0a0a0a">700</text>
<line x1="33.2" y1="402.90" x2="35.0" y2="402.90" stroke="#333" stroke-width="0.6"/>
<line x1="143.4" y1="402.90" x2="145.2" y2="402.90" stroke="#333" stroke-width="0.6"/>
<rect x="35.00" y="394.80" width="16.35" height="16.25" fill="#fa8a6c"/>
<rect x="35.50" y="395.30" width="15.30" height="15.20" fill="none" stroke="#ffffff" stroke-opacity="0.45" stroke-width="1"/>
<rect x="36.10" y="395.90" width="14.10" height="14.00" fill="none" stroke="#1a2228" stroke-opacity="0.45" stroke-width="0.75"/>
<text x="43.15" y="404.65" class="a" font-size="6.2" text-anchor="middle" fill="#111">0.23</text>
<rect x="51.30" y="394.80" width="16.35" height="16.25" fill="#fdbca2"/>
<rect x="51.80" y="395.30" width="15.30" height="15.20" fill="none" stroke="#ffffff" stroke-opacity="0.45" stroke-width="1"/>
<rect x="52.40" y="395.90" width="14.10" height="14.00" fill="none" stroke="#1a2228" stroke-opacity="0.45" stroke-width="0.75"/>
<text x="59.45" y="404.65" class="a" font-size="6.2" text-anchor="middle" fill="#111">0.15</text>
<rect x="67.60" y="394.80" width="16.35" height="16.25" fill="#f87559"/>
<rect x="68.10" y="395.30" width="15.30" height="15.20" fill="none" stroke="#ffffff" stroke-opacity="0.45" stroke-width="1"/>
<rect x="68.70" y="395.90" width="14.10" height="14.00" fill="none" stroke="#1a2228" stroke-opacity="0.45" stroke-width="0.75"/>
<text x="75.75" y="404.65" class="a" font-size="6.2" text-anchor="middle" fill="#111">0.26</text>
<rect x="83.90" y="394.80" width="16.35" height="16.25" fill="#f97d5f"/>
<rect x="84.40" y="395.30" width="15.30" height="15.20" fill="none" stroke="#ffffff" stroke-opacity="0.45" stroke-width="1"/>
<rect x="85.00" y="395.90" width="14.10" height="14.00" fill="none" stroke="#1a2228" stroke-opacity="0.45" stroke-width="0.75"/>
<text x="92.05" y="404.65" class="a" font-size="6.2" text-anchor="middle" fill="#111">0.25</text>
<rect x="100.20" y="394.80" width="16.35" height="16.25" fill="#fa8466"/>
<rect x="100.70" y="395.30" width="15.30" height="15.20" fill="none" stroke="#ffffff" stroke-opacity="0.45" stroke-width="1"/>
<rect x="101.30" y="395.90" width="14.10" height="14.00" fill="none" stroke="#1a2228" stroke-opacity="0.45" stroke-width="0.75"/>
<text x="108.35" y="404.65" class="a" font-size="6.2" text-anchor="middle" fill="#111">0.24</text>
<rect x="116.50" y="394.80" width="16.35" height="16.25" fill="#fa8466"/>
<rect x="117.00" y="395.30" width="15.30" height="15.20" fill="none" stroke="#ffffff" stroke-opacity="0.45" stroke-width="1"/>
<rect x="117.60" y="395.90" width="14.10" height="14.00" fill="none" stroke="#1a2228" stroke-opacity="0.45" stroke-width="0.75"/>
<text x="124.65" y="404.65" class="a" font-size="6.2" text-anchor="middle" fill="#111">0.24</text>
<rect x="145.20" y="394.80" width="16.27" height="16.25" fill="#fa8a6c"/>
<text x="153.31" y="404.65" class="a" font-size="6.2" text-anchor="middle" fill="#111">0.23</text>
<rect x="161.42" y="394.80" width="16.27" height="16.25" fill="#fb9173"/>
<text x="169.53" y="404.65" class="a" font-size="6.2" text-anchor="middle" fill="#111">0.22</text>
<rect x="177.64" y="394.80" width="16.27" height="16.25" fill="#fca487"/>
<text x="185.75" y="404.65" class="a" font-size="6.2" text-anchor="middle" fill="#111">0.19</text>
<text x="31.6" y="422.5" font-size="10.9" text-anchor="end" fill="#0a0a0a">750</text>
<line x1="33.2" y1="419.10" x2="35.0" y2="419.10" stroke="#333" stroke-width="0.6"/>
<line x1="143.4" y1="419.10" x2="145.2" y2="419.10" stroke="#333" stroke-width="0.6"/>
<rect x="35.00" y="411.00" width="16.35" height="16.25" fill="#f97d5f"/>
<rect x="35.50" y="411.50" width="15.30" height="15.20" fill="none" stroke="#ffffff" stroke-opacity="0.45" stroke-width="1"/>
<rect x="36.10" y="412.10" width="14.10" height="14.00" fill="none" stroke="#1a2228" stroke-opacity="0.45" stroke-width="0.75"/>
<text x="43.15" y="420.85" class="a" font-size="6.2" text-anchor="middle" fill="#111">0.25</text>
<rect x="51.30" y="411.00" width="16.35" height="16.25" fill="#fb9173"/>
<rect x="51.80" y="411.50" width="15.30" height="15.20" fill="none" stroke="#ffffff" stroke-opacity="0.45" stroke-width="1"/>
<rect x="52.40" y="412.10" width="14.10" height="14.00" fill="none" stroke="#1a2228" stroke-opacity="0.45" stroke-width="0.75"/>
<text x="59.45" y="420.85" class="a" font-size="6.2" text-anchor="middle" fill="#111">0.22</text>
<rect x="67.60" y="411.00" width="16.35" height="16.25" fill="#f87559"/>
<rect x="68.10" y="411.50" width="15.30" height="15.20" fill="none" stroke="#ffffff" stroke-opacity="0.45" stroke-width="1"/>
<rect x="68.70" y="412.10" width="14.10" height="14.00" fill="none" stroke="#1a2228" stroke-opacity="0.45" stroke-width="0.75"/>
<text x="75.75" y="420.85" class="a" font-size="6.2" text-anchor="middle" fill="#111">0.26</text>
<rect x="83.90" y="411.00" width="16.35" height="16.25" fill="#fa8466"/>
<rect x="84.40" y="411.50" width="15.30" height="15.20" fill="none" stroke="#ffffff" stroke-opacity="0.45" stroke-width="1"/>
<rect x="85.00" y="412.10" width="14.10" height="14.00" fill="none" stroke="#1a2228" stroke-opacity="0.45" stroke-width="0.75"/>
<text x="92.05" y="420.85" class="a" font-size="6.2" text-anchor="middle" fill="#111">0.24</text>
<rect x="100.20" y="411.00" width="16.35" height="16.25" fill="#f97d5f"/>
<rect x="100.70" y="411.50" width="15.30" height="15.20" fill="none" stroke="#ffffff" stroke-opacity="0.45" stroke-width="1"/>
<rect x="101.30" y="412.10" width="14.10" height="14.00" fill="none" stroke="#1a2228" stroke-opacity="0.45" stroke-width="0.75"/>
<text x="108.35" y="420.85" class="a" font-size="6.2" text-anchor="middle" fill="#111">0.25</text>
<rect x="116.50" y="411.00" width="16.35" height="16.25" fill="#f97d5f"/>
<rect x="117.00" y="411.50" width="15.30" height="15.20" fill="none" stroke="#ffffff" stroke-opacity="0.45" stroke-width="1"/>
<rect x="117.60" y="412.10" width="14.10" height="14.00" fill="none" stroke="#1a2228" stroke-opacity="0.45" stroke-width="0.75"/>
<text x="124.65" y="420.85" class="a" font-size="6.2" text-anchor="middle" fill="#111">0.25</text>
<rect x="145.20" y="411.00" width="16.27" height="16.25" fill="#f97d5f"/>
<text x="153.31" y="420.85" class="a" font-size="6.2" text-anchor="middle" fill="#111">0.25</text>
<rect x="161.42" y="411.00" width="16.27" height="16.25" fill="#fa8466"/>
<text x="169.53" y="420.85" class="a" font-size="6.2" text-anchor="middle" fill="#111">0.24</text>
<rect x="177.64" y="411.00" width="16.27" height="16.25" fill="#f97d5f"/>
<text x="185.75" y="420.85" class="a" font-size="6.2" text-anchor="middle" fill="#111">0.25</text>
<text x="31.6" y="438.7" font-size="10.9" text-anchor="end" fill="#0a0a0a">775</text>
<line x1="33.2" y1="435.30" x2="35.0" y2="435.30" stroke="#333" stroke-width="0.6"/>
<line x1="143.4" y1="435.30" x2="145.2" y2="435.30" stroke="#333" stroke-width="0.6"/>
<rect x="35.00" y="427.20" width="16.35" height="16.25" fill="#fa8a6c"/>
<rect x="35.50" y="427.70" width="15.30" height="15.20" fill="none" stroke="#ffffff" stroke-opacity="0.45" stroke-width="1"/>
<rect x="36.10" y="428.30" width="14.10" height="14.00" fill="none" stroke="#1a2228" stroke-opacity="0.45" stroke-width="0.75"/>
<text x="43.15" y="437.05" class="a" font-size="6.2" text-anchor="middle" fill="#111">0.23</text>
<rect x="51.30" y="427.20" width="16.35" height="16.25" fill="#fa8a6c"/>
<rect x="51.80" y="427.70" width="15.30" height="15.20" fill="none" stroke="#ffffff" stroke-opacity="0.45" stroke-width="1"/>
<rect x="52.40" y="428.30" width="14.10" height="14.00" fill="none" stroke="#1a2228" stroke-opacity="0.45" stroke-width="0.75"/>
<text x="59.45" y="437.05" class="a" font-size="6.2" text-anchor="middle" fill="#111">0.23</text>
<rect x="67.60" y="427.20" width="16.35" height="16.25" fill="#fa8466"/>
<rect x="68.10" y="427.70" width="15.30" height="15.20" fill="none" stroke="#ffffff" stroke-opacity="0.45" stroke-width="1"/>
<rect x="68.70" y="428.30" width="14.10" height="14.00" fill="none" stroke="#1a2228" stroke-opacity="0.45" stroke-width="0.75"/>
<text x="75.75" y="437.05" class="a" font-size="6.2" text-anchor="middle" fill="#111">0.24</text>
<rect x="83.90" y="427.20" width="16.35" height="16.25" fill="#fb9779"/>
<rect x="84.40" y="427.70" width="15.30" height="15.20" fill="none" stroke="#ffffff" stroke-opacity="0.45" stroke-width="1"/>
<rect x="85.00" y="428.30" width="14.10" height="14.00" fill="none" stroke="#1a2228" stroke-opacity="0.45" stroke-width="0.75"/>
<text x="92.05" y="437.05" class="a" font-size="6.2" text-anchor="middle" fill="#111">0.21</text>
<rect x="100.20" y="427.20" width="16.35" height="16.25" fill="#fca487"/>
<rect x="100.70" y="427.70" width="15.30" height="15.20" fill="none" stroke="#ffffff" stroke-opacity="0.45" stroke-width="1"/>
<rect x="101.30" y="428.30" width="14.10" height="14.00" fill="none" stroke="#1a2228" stroke-opacity="0.45" stroke-width="0.75"/>
<text x="108.35" y="437.05" class="a" font-size="6.2" text-anchor="middle" fill="#111">0.19</text>
<rect x="116.50" y="427.20" width="16.35" height="16.25" fill="#fa8a6c"/>
<rect x="117.00" y="427.70" width="15.30" height="15.20" fill="none" stroke="#ffffff" stroke-opacity="0.45" stroke-width="1"/>
<rect x="117.60" y="428.30" width="14.10" height="14.00" fill="none" stroke="#1a2228" stroke-opacity="0.45" stroke-width="0.75"/>
<text x="124.65" y="437.05" class="a" font-size="6.2" text-anchor="middle" fill="#111">0.23</text>
<rect x="145.20" y="427.20" width="16.27" height="16.25" fill="#fa8a6c"/>
<text x="153.31" y="437.05" class="a" font-size="6.2" text-anchor="middle" fill="#111">0.23</text>
<rect x="161.42" y="427.20" width="16.27" height="16.25" fill="#fb9779"/>
<text x="169.53" y="437.05" class="a" font-size="6.2" text-anchor="middle" fill="#111">0.21</text>
<rect x="177.64" y="427.20" width="16.27" height="16.25" fill="#fa8466"/>
<text x="185.75" y="437.05" class="a" font-size="6.2" text-anchor="middle" fill="#111">0.24</text>
<text x="31.6" y="454.9" font-size="10.9" text-anchor="end" fill="#0a0a0a">800</text>
<line x1="33.2" y1="451.50" x2="35.0" y2="451.50" stroke="#333" stroke-width="0.6"/>
<line x1="143.4" y1="451.50" x2="145.2" y2="451.50" stroke="#333" stroke-width="0.6"/>
<rect x="35.00" y="443.40" width="16.35" height="16.25" fill="#fc9e80"/>
<rect x="35.50" y="443.90" width="15.30" height="15.20" fill="none" stroke="#ffffff" stroke-opacity="0.45" stroke-width="1"/>
<rect x="36.10" y="444.50" width="14.10" height="14.00" fill="none" stroke="#1a2228" stroke-opacity="0.45" stroke-width="0.75"/>
<text x="43.15" y="453.25" class="a" font-size="6.2" text-anchor="middle" fill="#111">0.20</text>
<rect x="51.30" y="443.40" width="16.35" height="16.25" fill="#fb9173"/>
<rect x="51.80" y="443.90" width="15.30" height="15.20" fill="none" stroke="#ffffff" stroke-opacity="0.45" stroke-width="1"/>
<rect x="52.40" y="444.50" width="14.10" height="14.00" fill="none" stroke="#1a2228" stroke-opacity="0.45" stroke-width="0.75"/>
<text x="59.45" y="453.25" class="a" font-size="6.2" text-anchor="middle" fill="#111">0.22</text>
<rect x="67.60" y="443.40" width="16.35" height="16.25" fill="#fb9779"/>
<rect x="68.10" y="443.90" width="15.30" height="15.20" fill="none" stroke="#ffffff" stroke-opacity="0.45" stroke-width="1"/>
<rect x="68.70" y="444.50" width="14.10" height="14.00" fill="none" stroke="#1a2228" stroke-opacity="0.45" stroke-width="0.75"/>
<text x="75.75" y="453.25" class="a" font-size="6.2" text-anchor="middle" fill="#111">0.21</text>
<rect x="83.90" y="443.40" width="16.35" height="16.25" fill="#fca487"/>
<rect x="84.40" y="443.90" width="15.30" height="15.20" fill="none" stroke="#ffffff" stroke-opacity="0.45" stroke-width="1"/>
<rect x="85.00" y="444.50" width="14.10" height="14.00" fill="none" stroke="#1a2228" stroke-opacity="0.45" stroke-width="0.75"/>
<text x="92.05" y="453.25" class="a" font-size="6.2" text-anchor="middle" fill="#111">0.19</text>
<rect x="100.20" y="443.40" width="16.35" height="16.25" fill="#fdbca2"/>
<rect x="100.70" y="443.90" width="15.30" height="15.20" fill="none" stroke="#ffffff" stroke-opacity="0.45" stroke-width="1"/>
<rect x="101.30" y="444.50" width="14.10" height="14.00" fill="none" stroke="#1a2228" stroke-opacity="0.45" stroke-width="0.75"/>
<text x="108.35" y="453.25" class="a" font-size="6.2" text-anchor="middle" fill="#111">0.15</text>
<rect x="116.50" y="443.40" width="16.35" height="16.25" fill="#fcaa8e"/>
<rect x="117.00" y="443.90" width="15.30" height="15.20" fill="none" stroke="#ffffff" stroke-opacity="0.45" stroke-width="1"/>
<rect x="117.60" y="444.50" width="14.10" height="14.00" fill="none" stroke="#1a2228" stroke-opacity="0.45" stroke-width="0.75"/>
<text x="124.65" y="453.25" class="a" font-size="6.2" text-anchor="middle" fill="#111">0.18</text>
<rect x="145.20" y="443.40" width="16.27" height="16.25" fill="#fc9e80"/>
<text x="153.31" y="453.25" class="a" font-size="6.2" text-anchor="middle" fill="#111">0.20</text>
<rect x="161.42" y="443.40" width="16.27" height="16.25" fill="#fc9e80"/>
<text x="169.53" y="453.25" class="a" font-size="6.2" text-anchor="middle" fill="#111">0.20</text>
<rect x="177.64" y="443.40" width="16.27" height="16.25" fill="#fcaa8e"/>
<text x="185.75" y="453.25" class="a" font-size="6.2" text-anchor="middle" fill="#111">0.18</text>
<text x="31.6" y="471.1" font-size="10.9" text-anchor="end" fill="#0a0a0a">825</text>
<line x1="33.2" y1="467.70" x2="35.0" y2="467.70" stroke="#333" stroke-width="0.6"/>
<line x1="143.4" y1="467.70" x2="145.2" y2="467.70" stroke="#333" stroke-width="0.6"/>
<rect x="35.00" y="459.60" width="16.35" height="16.25" fill="#fca487"/>
<rect x="35.50" y="460.10" width="15.30" height="15.20" fill="none" stroke="#ffffff" stroke-opacity="0.45" stroke-width="1"/>
<rect x="36.10" y="460.70" width="14.10" height="14.00" fill="none" stroke="#1a2228" stroke-opacity="0.45" stroke-width="0.75"/>
<text x="43.15" y="469.45" class="a" font-size="6.2" text-anchor="middle" fill="#111">0.19</text>
<rect x="51.30" y="459.60" width="16.35" height="16.25" fill="#fb9173"/>
<rect x="51.80" y="460.10" width="15.30" height="15.20" fill="none" stroke="#ffffff" stroke-opacity="0.45" stroke-width="1"/>
<rect x="52.40" y="460.70" width="14.10" height="14.00" fill="none" stroke="#1a2228" stroke-opacity="0.45" stroke-width="0.75"/>
<text x="59.45" y="469.45" class="a" font-size="6.2" text-anchor="middle" fill="#111">0.22</text>
<rect x="67.60" y="459.60" width="16.35" height="16.25" fill="#fca487"/>
<rect x="68.10" y="460.10" width="15.30" height="15.20" fill="none" stroke="#ffffff" stroke-opacity="0.45" stroke-width="1"/>
<rect x="68.70" y="460.70" width="14.10" height="14.00" fill="none" stroke="#1a2228" stroke-opacity="0.45" stroke-width="0.75"/>
<text x="75.75" y="469.45" class="a" font-size="6.2" text-anchor="middle" fill="#111">0.19</text>
<rect x="83.90" y="459.60" width="16.35" height="16.25" fill="#fdb69b"/>
<rect x="84.40" y="460.10" width="15.30" height="15.20" fill="none" stroke="#ffffff" stroke-opacity="0.45" stroke-width="1"/>
<rect x="85.00" y="460.70" width="14.10" height="14.00" fill="none" stroke="#1a2228" stroke-opacity="0.45" stroke-width="0.75"/>
<text x="92.05" y="469.45" class="a" font-size="6.2" text-anchor="middle" fill="#111">0.16</text>
<rect x="100.20" y="459.60" width="16.35" height="16.25" fill="#fdbca2"/>
<rect x="100.70" y="460.10" width="15.30" height="15.20" fill="none" stroke="#ffffff" stroke-opacity="0.45" stroke-width="1"/>
<rect x="101.30" y="460.70" width="14.10" height="14.00" fill="none" stroke="#1a2228" stroke-opacity="0.45" stroke-width="0.75"/>
<text x="108.35" y="469.45" class="a" font-size="6.2" text-anchor="middle" fill="#111">0.15</text>
<rect x="116.50" y="459.60" width="16.35" height="16.25" fill="#fca487"/>
<rect x="117.00" y="460.10" width="15.30" height="15.20" fill="none" stroke="#ffffff" stroke-opacity="0.45" stroke-width="1"/>
<rect x="117.60" y="460.70" width="14.10" height="14.00" fill="none" stroke="#1a2228" stroke-opacity="0.45" stroke-width="0.75"/>
<text x="124.65" y="469.45" class="a" font-size="6.2" text-anchor="middle" fill="#111">0.19</text>
<rect x="145.20" y="459.60" width="16.27" height="16.25" fill="#fca487"/>
<text x="153.31" y="469.45" class="a" font-size="6.2" text-anchor="middle" fill="#111">0.19</text>
<rect x="161.42" y="459.60" width="16.27" height="16.25" fill="#fca487"/>
<text x="169.53" y="469.45" class="a" font-size="6.2" text-anchor="middle" fill="#111">0.19</text>
<rect x="177.64" y="459.60" width="16.27" height="16.25" fill="#fcaa8e"/>
<text x="185.75" y="469.45" class="a" font-size="6.2" text-anchor="middle" fill="#111">0.18</text>
<text x="31.6" y="487.3" font-size="10.9" text-anchor="end" fill="#0a0a0a">850</text>
<line x1="33.2" y1="483.90" x2="35.0" y2="483.90" stroke="#333" stroke-width="0.6"/>
<line x1="143.4" y1="483.90" x2="145.2" y2="483.90" stroke="#333" stroke-width="0.6"/>
<rect x="35.00" y="475.80" width="16.35" height="16.25" fill="#fdc6ae"/>
<rect x="35.50" y="476.30" width="15.30" height="15.20" fill="none" stroke="#ffffff" stroke-opacity="0.45" stroke-width="1"/>
<rect x="36.10" y="476.90" width="14.10" height="14.00" fill="none" stroke="#1a2228" stroke-opacity="0.45" stroke-width="0.75"/>
<text x="43.15" y="485.65" class="a" font-size="6.2" text-anchor="middle" fill="#111">0.13</text>
<rect x="51.30" y="475.80" width="16.35" height="16.25" fill="#fdbca2"/>
<rect x="51.80" y="476.30" width="15.30" height="15.20" fill="none" stroke="#ffffff" stroke-opacity="0.45" stroke-width="1"/>
<rect x="52.40" y="476.90" width="14.10" height="14.00" fill="none" stroke="#1a2228" stroke-opacity="0.45" stroke-width="0.75"/>
<text x="59.45" y="485.65" class="a" font-size="6.2" text-anchor="middle" fill="#111">0.15</text>
<rect x="67.60" y="475.80" width="16.35" height="16.25" fill="#fdc1a8"/>
<rect x="68.10" y="476.30" width="15.30" height="15.20" fill="none" stroke="#ffffff" stroke-opacity="0.45" stroke-width="1"/>
<rect x="68.70" y="476.90" width="14.10" height="14.00" fill="none" stroke="#1a2228" stroke-opacity="0.45" stroke-width="0.75"/>
<text x="75.75" y="485.65" class="a" font-size="6.2" text-anchor="middle" fill="#111">0.14</text>
<rect x="83.90" y="475.80" width="16.35" height="16.25" fill="#fdcbb4"/>
<rect x="84.40" y="476.30" width="15.30" height="15.20" fill="none" stroke="#ffffff" stroke-opacity="0.45" stroke-width="1"/>
<rect x="85.00" y="476.90" width="14.10" height="14.00" fill="none" stroke="#1a2228" stroke-opacity="0.45" stroke-width="0.75"/>
<text x="92.05" y="485.65" class="a" font-size="6.2" text-anchor="middle" fill="#111">0.12</text>
<rect x="100.20" y="475.80" width="16.35" height="16.25" fill="#fddcca"/>
<rect x="100.70" y="476.30" width="15.30" height="15.20" fill="none" stroke="#ffffff" stroke-opacity="0.45" stroke-width="1"/>
<rect x="101.30" y="476.90" width="14.10" height="14.00" fill="none" stroke="#1a2228" stroke-opacity="0.45" stroke-width="0.75"/>
<text x="108.35" y="485.65" class="a" font-size="6.2" text-anchor="middle" fill="#111">0.08</text>
<rect x="116.50" y="475.80" width="16.35" height="16.25" fill="#fdcbb4"/>
<rect x="117.00" y="476.30" width="15.30" height="15.20" fill="none" stroke="#ffffff" stroke-opacity="0.45" stroke-width="1"/>
<rect x="117.60" y="476.90" width="14.10" height="14.00" fill="none" stroke="#1a2228" stroke-opacity="0.45" stroke-width="0.75"/>
<text x="124.65" y="485.65" class="a" font-size="6.2" text-anchor="middle" fill="#111">0.12</text>
<rect x="145.20" y="475.80" width="16.27" height="16.25" fill="#fdc6ae"/>
<text x="153.31" y="485.65" class="a" font-size="6.2" text-anchor="middle" fill="#111">0.13</text>
<rect x="161.42" y="475.80" width="16.27" height="16.25" fill="#fdcbb4"/>
<text x="169.53" y="485.65" class="a" font-size="6.2" text-anchor="middle" fill="#111">0.12</text>
<rect x="177.64" y="475.80" width="16.27" height="16.25" fill="#fdd0ba"/>
<text x="185.75" y="485.65" class="a" font-size="6.2" text-anchor="middle" fill="#111">0.11</text>
<text x="31.6" y="503.5" font-size="10.9" text-anchor="end" fill="#0a0a0a">875</text>
<line x1="33.2" y1="500.10" x2="35.0" y2="500.10" stroke="#333" stroke-width="0.6"/>
<line x1="143.4" y1="500.10" x2="145.2" y2="500.10" stroke="#333" stroke-width="0.6"/>
<rect x="35.00" y="492.00" width="16.35" height="16.25" fill="#fddcca"/>
<rect x="35.50" y="492.50" width="15.30" height="15.20" fill="none" stroke="#ffffff" stroke-opacity="0.45" stroke-width="1"/>
<rect x="36.10" y="493.10" width="14.10" height="14.00" fill="none" stroke="#1a2228" stroke-opacity="0.45" stroke-width="0.75"/>
<text x="43.15" y="501.85" class="a" font-size="6.2" text-anchor="middle" fill="#111">0.08</text>
<rect x="51.30" y="492.00" width="16.35" height="16.25" fill="#fdd9c5"/>
<rect x="51.80" y="492.50" width="15.30" height="15.20" fill="none" stroke="#ffffff" stroke-opacity="0.45" stroke-width="1"/>
<rect x="52.40" y="493.10" width="14.10" height="14.00" fill="none" stroke="#1a2228" stroke-opacity="0.45" stroke-width="0.75"/>
<text x="59.45" y="501.85" class="a" font-size="6.2" text-anchor="middle" fill="#111">0.09</text>
<rect x="67.60" y="492.00" width="16.35" height="16.25" fill="#fdd9c5"/>
<rect x="68.10" y="492.50" width="15.30" height="15.20" fill="none" stroke="#ffffff" stroke-opacity="0.45" stroke-width="1"/>
<rect x="68.70" y="493.10" width="14.10" height="14.00" fill="none" stroke="#1a2228" stroke-opacity="0.45" stroke-width="0.75"/>
<text x="75.75" y="501.85" class="a" font-size="6.2" text-anchor="middle" fill="#111">0.09</text>
<rect x="83.90" y="492.00" width="16.35" height="16.25" fill="#fde0d0"/>
<text x="92.05" y="501.85" class="a" font-size="6.2" text-anchor="middle" fill="#111">0.07</text>
<rect x="100.20" y="492.00" width="16.35" height="16.25" fill="#fbede7"/>
<text x="108.35" y="501.85" class="a" font-size="6.2" text-anchor="middle" fill="#111">0.03</text>
<rect x="116.50" y="492.00" width="16.35" height="16.25" fill="#fde3d5"/>
<rect x="117.00" y="492.50" width="15.30" height="15.20" fill="none" stroke="#ffffff" stroke-opacity="0.45" stroke-width="1"/>
<rect x="117.60" y="493.10" width="14.10" height="14.00" fill="none" stroke="#1a2228" stroke-opacity="0.45" stroke-width="0.75"/>
<text x="124.65" y="501.85" class="a" font-size="6.2" text-anchor="middle" fill="#111">0.06</text>
<rect x="145.20" y="492.00" width="16.27" height="16.25" fill="#fddcca"/>
<text x="153.31" y="501.85" class="a" font-size="6.2" text-anchor="middle" fill="#111">0.08</text>
<rect x="161.42" y="492.00" width="16.27" height="16.25" fill="#fddcca"/>
<text x="169.53" y="501.85" class="a" font-size="6.2" text-anchor="middle" fill="#111">0.08</text>
<rect x="177.64" y="492.00" width="16.27" height="16.25" fill="#fddcca"/>
<text x="185.75" y="501.85" class="a" font-size="6.2" text-anchor="middle" fill="#111">0.08</text>
<text x="31.6" y="519.7" font-size="10.9" text-anchor="end" fill="#0a0a0a">900</text>
<line x1="33.2" y1="516.30" x2="35.0" y2="516.30" stroke="#333" stroke-width="0.6"/>
<line x1="143.4" y1="516.30" x2="145.2" y2="516.30" stroke="#333" stroke-width="0.6"/>
<rect x="35.00" y="508.20" width="16.35" height="16.25" fill="#fceae0"/>
<text x="43.15" y="518.05" class="a" font-size="6.2" text-anchor="middle" fill="#111">0.04</text>
<rect x="51.30" y="508.20" width="16.35" height="16.25" fill="#fbede7"/>
<text x="59.45" y="518.05" class="a" font-size="6.2" text-anchor="middle" fill="#111">0.03</text>
<rect x="67.60" y="508.20" width="16.35" height="16.25" fill="#fbede7"/>
<text x="75.75" y="518.05" class="a" font-size="6.2" text-anchor="middle" fill="#111">0.03</text>
<rect x="83.90" y="508.20" width="16.35" height="16.25" fill="#f9f1ed"/>
<text x="92.05" y="518.05" class="a" font-size="6.2" text-anchor="middle" fill="#111">0.02</text>
<rect x="100.20" y="508.20" width="16.35" height="16.25" fill="#f8f4f4"/>
<text x="108.35" y="518.05" class="a" font-size="6.2" text-anchor="middle" fill="#111">0.01</text>
<rect x="116.50" y="508.20" width="16.35" height="16.25" fill="#fceae0"/>
<text x="124.65" y="518.05" class="a" font-size="6.2" text-anchor="middle" fill="#111">0.04</text>
<rect x="145.20" y="508.20" width="16.27" height="16.25" fill="#fceae0"/>
<text x="153.31" y="518.05" class="a" font-size="6.2" text-anchor="middle" fill="#111">0.04</text>
<rect x="161.42" y="508.20" width="16.27" height="16.25" fill="#fde0d0"/>
<text x="169.53" y="518.05" class="a" font-size="6.2" text-anchor="middle" fill="#111">0.07</text>
<rect x="177.64" y="508.20" width="16.27" height="16.25" fill="#fbede7"/>
<text x="185.75" y="518.05" class="a" font-size="6.2" text-anchor="middle" fill="#111">0.03</text>
<line x1="43.15" y1="524.4" x2="43.15" y2="526.6" stroke="#333" stroke-width="0.6"/>
<text x="43.15" y="533.4" font-size="7.8" text-anchor="middle" fill="#0a0a0a">−42</text>
<line x1="59.45" y1="524.4" x2="59.45" y2="526.6" stroke="#333" stroke-width="0.6"/>
<text x="59.45" y="533.4" font-size="7.8" text-anchor="middle" fill="#0a0a0a">−36</text>
<line x1="75.75" y1="524.4" x2="75.75" y2="526.6" stroke="#333" stroke-width="0.6"/>
<text x="75.75" y="533.4" font-size="7.8" text-anchor="middle" fill="#0a0a0a">−30</text>
<line x1="92.05" y1="524.4" x2="92.05" y2="526.6" stroke="#333" stroke-width="0.6"/>
<text x="92.05" y="533.4" font-size="7.8" text-anchor="middle" fill="#0a0a0a">−24</text>
<line x1="108.35" y1="524.4" x2="108.35" y2="526.6" stroke="#333" stroke-width="0.6"/>
<text x="108.35" y="533.4" font-size="7.8" text-anchor="middle" fill="#0a0a0a">−18</text>
<line x1="124.65" y1="524.4" x2="124.65" y2="526.6" stroke="#333" stroke-width="0.6"/>
<text x="124.65" y="533.4" font-size="7.8" text-anchor="middle" fill="#0a0a0a">−12</text>
<line x1="153.31" y1="524.4" x2="153.31" y2="526.6" stroke="#333" stroke-width="0.6"/>
<text x="153.31" y="533.4" font-size="7.8" text-anchor="middle" fill="#0a0a0a">Mean</text>
<line x1="169.53" y1="524.4" x2="169.53" y2="526.6" stroke="#333" stroke-width="0.6"/>
<text x="169.53" y="533.4" font-size="7.8" text-anchor="middle" fill="#0a0a0a">Max</text>
<line x1="185.75" y1="524.4" x2="185.75" y2="526.6" stroke="#333" stroke-width="0.6"/>
<text x="185.75" y="533.4" font-size="7.8" text-anchor="middle" fill="#0a0a0a">Min</text>
<text x="83.90" y="545.4" font-size="11.6" text-anchor="middle" fill="#0a0a0a">Lead Time (min)</text>
<text x="169.03" y="545.4" font-size="11.6" text-anchor="middle" fill="#0a0a0a">in 30-min</text>
<text transform="translate(10.0,411.0) rotate(-90)" font-size="11.5" text-anchor="middle" fill="#0a0a0a">Pressure (hPa)</text>
<defs><linearGradient id="cb" x1="0" y1="0" x2="0" y2="1">
<stop offset="0.000" stop-color="#6e051e"/>
<stop offset="0.050" stop-color="#a50f23"/>
<stop offset="0.100" stop-color="#cd1928"/>
<stop offset="0.150" stop-color="#e63232"/>
<stop offset="0.200" stop-color="#f25541"/>
<stop offset="0.250" stop-color="#f97d5f"/>
<stop offset="0.300" stop-color="#fc9e80"/>
<stop offset="0.350" stop-color="#fdbca2"/>
<stop offset="0.400" stop-color="#fdd5c0"/>
<stop offset="0.450" stop-color="#fde7da"/>
<stop offset="0.500" stop-color="#f7f7fa"/>
<stop offset="0.550" stop-color="#d9edf6"/>
<stop offset="0.600" stop-color="#b6dfef"/>
<stop offset="0.650" stop-color="#8ccee6"/>
<stop offset="0.700" stop-color="#5abada"/>
<stop offset="0.750" stop-color="#2ba1cf"/>
<stop offset="0.800" stop-color="#1886c2"/>
<stop offset="0.850" stop-color="#0d6fb4"/>
<stop offset="0.900" stop-color="#0558a0"/>
<stop offset="0.950" stop-color="#064487"/>
<stop offset="1.000" stop-color="#08306b"/>
</linearGradient></defs>
<rect x="245.0" y="297.6" width="10.0" height="227.0" fill="url(#cb)" stroke="#777" stroke-width="0.4"/>
<line x1="255.0" y1="297.60" x2="256.8" y2="297.60" stroke="#333" stroke-width="0.6"/>
<text x="258.2" y="301.20" font-size="10.7" fill="#0a0a0a">0.5</text>
<line x1="255.0" y1="320.30" x2="256.8" y2="320.30" stroke="#333" stroke-width="0.6"/>
<text x="258.2" y="323.90" font-size="10.7" fill="#0a0a0a">0.4</text>
<line x1="255.0" y1="343.00" x2="256.8" y2="343.00" stroke="#333" stroke-width="0.6"/>
<text x="258.2" y="346.60" font-size="10.7" fill="#0a0a0a">0.3</text>
<line x1="255.0" y1="365.70" x2="256.8" y2="365.70" stroke="#333" stroke-width="0.6"/>
<text x="258.2" y="369.30" font-size="10.7" fill="#0a0a0a">0.2</text>
<line x1="255.0" y1="388.40" x2="256.8" y2="388.40" stroke="#333" stroke-width="0.6"/>
<text x="258.2" y="392.00" font-size="10.7" fill="#0a0a0a">0.1</text>
<line x1="255.0" y1="411.10" x2="256.8" y2="411.10" stroke="#333" stroke-width="0.6"/>
<text x="258.2" y="414.70" font-size="10.7" fill="#0a0a0a">0.0</text>
<line x1="255.0" y1="433.80" x2="256.8" y2="433.80" stroke="#333" stroke-width="0.6"/>
<text x="258.2" y="437.40" font-size="10.7" fill="#0a0a0a">−0.1</text>
<line x1="255.0" y1="456.50" x2="256.8" y2="456.50" stroke="#333" stroke-width="0.6"/>
<text x="258.2" y="460.10" font-size="10.7" fill="#0a0a0a">−0.2</text>
<line x1="255.0" y1="479.20" x2="256.8" y2="479.20" stroke="#333" stroke-width="0.6"/>
<text x="258.2" y="482.80" font-size="10.7" fill="#0a0a0a">−0.3</text>
<line x1="255.0" y1="501.90" x2="256.8" y2="501.90" stroke="#333" stroke-width="0.6"/>
<text x="258.2" y="505.50" font-size="10.7" fill="#0a0a0a">−0.4</text>
<line x1="255.0" y1="524.60" x2="256.8" y2="524.60" stroke="#333" stroke-width="0.6"/>
<text x="258.2" y="528.20" font-size="10.7" fill="#0a0a0a">−0.5</text>
<text transform="translate(286.2,411.1) rotate(-90)" font-size="11.5" text-anchor="middle" fill="#0a0a0a">Correlation Coefficient</text>
</svg>
</body></html>
